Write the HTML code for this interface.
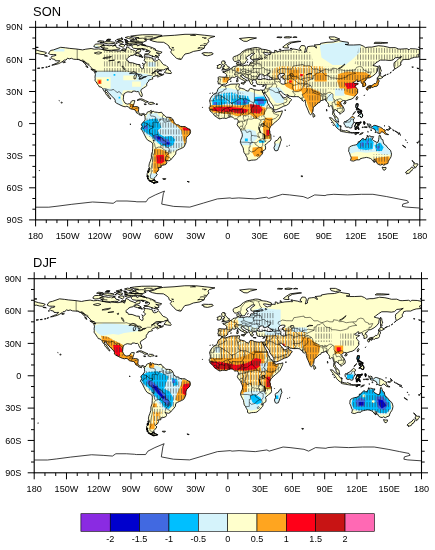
<!DOCTYPE html><html><head><meta charset="utf-8"><title>SON DJF</title>
<style>html,body{margin:0;padding:0;background:#fff}svg{display:block}text{font-family:"Liberation Sans", Arial, sans-serif;fill:#000}</style></head><body>
<svg width="435" height="550" viewBox="0 0 435 550">
<rect width="435" height="550" fill="#fff"/>
<defs>
<path id="land" d="M48.4 53.5L50.5 50.5L53.7 49.8L60.7 47.3L65.5 47.8L69.8 48.4L77.2 49.1L82.6 49.9L85.8 49.2L91.1 48.5L94.3 49.2L98.6 48.9L105 49.9L111.4 51.1L112.4 50.5L118.8 51.1L123.1 50.3L125.2 51.6L125.8 50L126.8 46.7L129.5 48.2L130.6 49.2L133.8 50.3L135.9 51.4L137 49.8L140.2 49L140.7 50.3L140.2 51.9L135.9 52.7L134.9 53.5L133.8 55.1L130.6 55.7L128.4 57.3L126.8 58.9L126.8 60.7L128.4 61L129 62.6L132.7 62.8L137 64.4L139.9 64.6L140 66.9L141.3 68L142.3 68.8L143.4 68.5L143.6 66.4L142.9 65.2L145 63.7L146.1 62.1L143.9 60.5L145 58.9L144.5 56.9L147.1 57L149.3 57.3L150.9 57.8L153 58.3L153.5 60.5L155.1 61.2L157.3 60.5L158.9 59.1L161 61.5L162.1 63.1L163.7 64.8L165.8 65.3L166.9 66.4L168.3 67.4L167.9 68.4L165.3 69L163.7 69.9L159.4 69.9L156.7 69.9L155.1 71L153 72.8L151.7 73.5L153.5 72.5L156.2 71.2L158.9 71.2L159.1 72L157.3 72.2L158.3 73.3L158.9 74.2L160.5 74.6L162.1 74.7L163.7 73.8L163.7 74.6L162.6 75.2L159.9 76L157.8 77.1L157 76.5L158.3 75.2L156.2 75.5L155.1 76.1L153 76.8L152.2 77.9L153 78.9L151.4 79.3L148.7 80.2L148.7 81.3L147.7 82.1L147.1 83.2L146.6 84L146.9 85.6L145.5 86.7L143.4 88.1L141.3 89.4L140.8 91L141.8 93.1L142.3 94.9L142 96.5L141 96.6L140.2 95.2L139.3 93.6L139.1 92.4L138.1 91.5L136.5 91.7L134.9 91.1L132.7 91.2L132.2 92.4L130.6 92.2L127.9 91.8L126.3 92.4L124.2 93.6L123.6 95.8L123.4 97.9L123.3 99.7L124 101.3L125 103.1L126.3 103.7L127.4 104.1L129.5 103.7L130.6 103.3L131.1 101.7L131.7 100.9L133.8 100.5L134.9 100.7L134.3 102.7L133.8 104L133.5 105.4L132.9 106.6L134.3 106.7L135.9 106.6L137.5 106.7L138.8 107.5L138.6 109.7L138.4 111.3L138.6 112.4L139.7 113.4L140.7 114.1L142.3 113.8L143.4 113.4L145 114.3L145.5 115L146.6 113.8L147.1 112.4L148.2 111.8L149.8 111.3L151.2 110.3L151.6 111.3L150.9 112.4L151.4 113.4L151.9 112L153 111L154.6 112L157.3 112.3L158.9 112.7L161.5 112.2L162.1 113.1L163.1 114.5L164.7 115.6L166.3 117.2L169 117.3L171.1 117.7L172.7 119L173.8 121.5L174.3 123.1L175.9 124.1L176.5 124.7L178.6 124.9L180.2 126.3L182.9 126.6L185 126.6L186.6 127.6L188.2 128.7L190 129.3L190.6 131.6L190.1 133.8L188.2 135.9L186.6 137.5L186.1 139.7L186.1 142.3L185.3 144.5L183.9 147.1L181.8 148.2L179.7 149.1L177.5 150.1L175.9 151.4L175.7 153.9L174.3 155.7L172.2 158.1L170.6 160L169 160.9L166.9 160.5L165.4 160L166.7 161.6L166.9 163L165.8 164.5L162.6 165.3L161.3 165.3L161.2 167.3L158.3 167.5L158.9 169.1L158 171.2L155.7 172.8L157.3 174.4L155.7 176.6L154.1 178.2L154.6 179.6L152.5 180L151.9 181.2L149.8 180.3L148.2 178.7L147.1 176L147.1 173.7L148.7 171.8L149.8 168.5L148.9 166.4L149.3 163.7L150.3 161.1L151.4 157.8L151.4 154.6L152.5 151.4L152.7 148.2L152.8 145L152.6 143.3L150.9 141.8L147.7 140.2L146.3 138.4L145 135.9L143.4 132.7L142.3 130.6L140.9 129L141.8 127.3L142.3 126.3L141.3 124.7L142.3 123.1L143.4 122L144.5 120.9L145.2 119.3L145 117.2L145 115.9L144.1 115L142.9 114.1L141.8 114.8L142 115.7L140.7 115.3L139.1 114.7L138.1 113.4L136.5 112.9L136.1 111.8L134.9 109.9L134.1 109.4L132.2 109.2L130 108.6L128.4 107L126.8 106.3L125.2 106.8L123.1 106.3L121 105.4L118.8 104.3L116.7 103.3L115.1 102L115.3 100.6L114.6 99L112.4 96.8L110.8 95.2L109.8 93.9L108.2 92.6L107.1 90.4L105.3 89.7L105.5 91.5L107.1 93.1L108.2 94.7L109.2 96.3L110.3 97.9L110.8 99L110.1 98.8L108.2 97.1L107.6 95.6L106 94.5L105.5 93.6L105.8 92.8L104.2 91.5L103.4 89.9L102.6 88.6L101.3 87.2L99.1 86.7L98.6 85.6L97.5 84.2L97 83.2L95.6 81.3L95 80.4L95.2 78.7L95 77.1L95.4 74.4L94.6 71.8L96.4 72.2L96.6 71.2L95.4 70.1L92.2 69L91.1 67.4L89 65.3L87.4 64.2L85.2 62.1L83.1 61L81 60.7L78.8 59.6L76.2 59.4L73.5 59.2L71.4 58.3L69.2 58.9L67.6 58.1L66 60.1L64.4 59.9L63.3 61L60.7 62.6L58.5 63.7L55.9 64.4L53.7 65L51.8 65.2L54.8 63.9L56.9 63.1L59.1 61.8L59.8 60.7L58 60.8L55.3 60.8L54.8 59.4L52.1 58.9L51.1 57.8L51.6 56.4L53.7 56L55.9 55.4L55.9 54.6L53.7 54.6L50.5 54.5ZM134.9 55.1L138.1 56L141.8 55.5L140.2 54.3L137.5 53.2L135.4 54ZM164.4 72.6L167.9 73.3L171.1 73.6L171.5 72.7L170.6 71.7L170.4 70.6L168.5 70.1L168.5 68.5L166.9 69L165.8 70.6ZM90.8 69.2L94.3 70.1L96 71.8L94.5 71.7ZM137 100.3L139.1 99L141.8 98.9L145.5 100.6L148.5 102L145 102.3L144.5 101.5L142.3 100.4L140.2 99.6L138.1 100.3ZM148.3 103.8L149.8 102.3L153 102.4L154.7 103.7L151.9 104.1L151.2 104.6ZM144.1 103.9L146.3 104.1L146.1 104.6L144.5 104.6ZM156 103.9L157.6 103.9L157.5 104.4L156 104.4ZM201.8 53.5L203.7 52.6L208.5 52.8L212.2 52.7L213.2 54L210.6 55.1L207.4 55.8L203.7 55.2L204.2 54.3ZM239.4 38.5L243.7 41.2L246.9 41.4L250.1 39.6L256.5 38L249 37.5ZM282.7 47.1L284.3 47.8L288.5 48L287.5 45.2L291.7 42.8L300.8 41.4L298.1 41.2L289.6 42.3L285.3 45ZM330.2 39.1L334.4 40.1L339.8 39.1L334.4 36.9L329.1 36.9ZM373.9 43.4L382.4 43.4L387.8 42.8L380.3 42.3L375 42.3ZM255.1 47.5L257.6 47.6L260.8 48.4L260.8 49.1L262.9 49.3L266.1 49.7L270.4 51.1L271.5 52.1L268.8 53L264 52.2L262.9 52.4L264.5 54L265.1 54.8L267.2 55.3L268.3 54.6L270.4 54.5L270.4 53.2L272.5 52.6L274.7 52.8L274.7 50.3L276.8 50.8L276.8 52.1L278.9 51.3L284.3 50.3L289.6 50L291.7 50.2L292.8 48.9L297.1 49.6L299.2 50.3L301.3 50.3L299.2 48.7L301.3 45.5L304.5 45.7L305.6 47.6L305.1 50.3L304.5 52.4L306.7 51.4L306.7 49.8L307.7 46.6L310.9 46.2L313.1 46L315.2 46.8L316.3 48.2L316.3 46.6L314.1 45L320.5 44.4L320.5 43.4L327 42.3L333.4 42L338.7 40.5L341.9 41.4L348.3 42.3L348.3 44.4L345.1 44.4L348.3 45L353.6 45L360 44.7L363.2 46L365.4 47.6L368.6 47.1L371.8 47.1L377.1 46L378.2 45.7L383.5 46.2L387.8 47.1L389.9 47.7L395.3 47.6L398.5 49L400.6 49.1L407 48.7L409.1 49.8L410.2 48.7L415.5 48.9L419.8 49.8L419.8 53.8L417.7 54.6L418.7 56.2L419.3 56.9L414.5 57.3L411.3 58.3L409.1 59.4L404.9 59.4L402.2 59.9L401.7 61.5L400.6 63.1L401.1 64.8L398.5 66.7L396.6 68L394.9 69L394.2 66.9L393.9 64.8L394.2 62.6L396.3 61L398.5 58.9L401.7 56.7L398.5 57.5L395.3 57.8L393.1 59.9L389.9 60.5L385.6 60.1L380.3 60.1L377.1 62.1L374.4 64.2L372.8 65.3L375 66L378.2 66.7L377.6 69L377.4 71.2L375.5 73.8L372.8 76L369.6 77.8L367.5 78.1L366.2 79.2L365.4 80.8L363.8 81.3L364.8 82.4L365.8 84L365.7 85.6L364.3 86.4L362.7 86.7L362.7 85.1L362.9 84L361.1 82.9L361.1 81.3L360.4 80.8L357.9 81.7L357.2 82L357.9 80.3L356.8 79.9L354.7 81.7L353.3 82.1L354.5 83.5L356.3 83.3L358.4 83.8L356.3 84.9L355 86.2L356.3 87.8L357.7 89.6L357.7 90.6L356.8 91.2L357.9 91.7L357.4 93.3L355.8 95.2L354.7 96.6L353.1 98.1L351 99.3L349 99.7L346.7 100.6L345.4 100.8L345.1 101.9L344.8 100.6L343.3 100.5L341.7 101.3L340.6 102.7L341.4 104.6L343 106.5L344.2 109.2L344 111.3L341.9 112.5L340.1 114.3L339.8 112.9L338.2 112.3L337.1 110.8L335.5 110L335 109.2L334.4 110.2L333.7 112.4L334.4 114L335 115.8L336 116.3L337.6 117.7L338.2 119.3L338.2 120.9L338.9 122.1L338.2 122.2L336 120.7L335 118.8L334.7 117.2L333.4 115.3L332.6 114.5L332.8 112.4L333 110.2L332.3 108.1L331.9 105.9L330.7 105.6L329.4 106.7L328.3 106.3L328.6 104.3L327.5 102.4L326.2 101.1L325.7 99.7L324.3 99.5L322.7 100.3L320.5 100.6L320 102.2L318.4 102.7L316.3 104.9L314.7 106.3L313.3 107L313.2 109.2L312.9 111.3L312.3 112.6L311.8 113.8L310.5 114.9L309.3 113.4L308.3 110.8L307.2 108.1L306.1 105.9L305.5 103.3L305.3 101.1L305.1 99.8L303.5 101.3L301.6 99.8L302.6 99.1L301.1 98.7L299.7 97.9L298.9 96.8L296.5 96.6L293.3 96.7L290.7 96.4L288.9 96.1L288 94.7L285.9 95.1L283.7 94.2L282.1 92.6L281.1 91.3L279.8 91.3L278.9 92L279.7 93.3L281.1 94.9L281.3 96.2L282.1 95.8L282.8 96.8L282.4 97.6L283.7 97.7L285.3 97.7L286.9 96.3L287.8 95.6L288 97.1L289.1 98.1L290.5 98.5L291.5 99.5L290.7 101.1L289.6 101.7L289.3 103.3L288 104.3L286.4 105.4L283.7 106.2L281.1 107.5L278.9 108.6L276.3 109.7L274.1 110L273.6 108.6L273.3 106.5L272 104.3L270.4 102.2L269.3 100.6L268.8 98.5L267.2 96.3L266.1 94.7L265.1 93.4L264.9 92L264.3 93.6L264.2 94L263.2 93.1L262.5 91.5L262.2 90.2L264 90.1L264.7 89.4L265.1 88.3L265.8 86.7L266.1 85.1L266.1 84.2L264.5 84.3L262.9 84.9L260.8 84.2L260.3 84.8L258.6 84.5L257 84.2L256.7 82.9L256 82.4L256.5 81.3L255.7 80.8L256 80.3L255.4 79.9L253.3 79.9L252.8 80.6L252 80.4L251.9 81.7L252.8 82.4L253.3 82.9L252.5 83.2L252.2 84.5L251.5 84.5L250.9 84.1L250.3 83.2L250.1 82.1L249 81.1L248.4 79.7L248.5 78.9L247.4 78.1L245.8 77.4L244.2 76.5L243.2 75.2L242.3 74.8L240.8 75.1L240.9 76.3L242.2 77.1L242.9 78.2L244.8 78.9L245.8 79.7L247.4 80.6L247.3 81L245.8 80.4L245.3 81.2L245.9 81.9L245.3 82.6L244.5 82.9L244.8 82.1L244.5 80.8L243.2 80.1L241.6 79.4L240.7 78.9L239.4 78.2L238.7 77.1L237.8 76.3L237 76.1L235.7 76.7L234.6 77.5L233 77.2L232 77.1L230.9 77.6L231.1 78.7L230 79.4L228.4 79.9L227.4 81.3L227.8 82.2L227 83.2L225.6 84.2L223 84.3L221.9 85L221 84.4L220.2 83.8L218.3 84L218.3 82.4L217.7 82.1L218.2 80.6L218.4 78.9L217.9 77.6L219.2 76.8L221.8 77.1L224 77.2L225.8 77.2L226.4 76L226.5 74.6L225.6 73.5L224.7 72.9L222.9 72.3L222.7 71.7L224.5 71.4L226 71.5L225.8 70.4L226.4 70.7L227.9 70.5L229.3 69.9L229.5 69.1L230.9 68.7L232 68L232.8 66.9L234.1 66.5L235.4 66.2L236.9 66.1L237.1 65.3L236.9 64.2L236.3 63.1L236.8 62.5L238.9 61.9L238.7 63.1L239.2 63.5L238.4 64.2L237.9 65L239.2 65.5L239.4 65.8L240.8 65.5L242.6 65.8L243 65.9L245.3 65.3L247.4 65L248.5 65.4L249 64.9L250.1 64.2L250.1 62.6L251.7 61.9L252.8 62.6L253.6 62.1L253.7 61.2L252.8 60.3L254.9 59.9L257.6 59.9L259.9 59.4L258.1 58.8L255.4 59L252.2 59.5L250.6 58.9L250.4 57.3L251.2 56L253.8 54.3L254.7 53.5L253.5 53.2L251.2 53.4L250.4 54.6L248 56L246.2 57.3L246.1 58.5L247.8 59.4L246.9 60.5L245.5 61.8L245.1 63L244.6 63.6L243 64.2L241.6 64.3L241.3 63.5L240.5 62.1L239.7 60.6L239 59.9L237.8 60.7L236.2 61.4L234.6 61.4L233.6 60.5L233 58.9L233 57.5L234.1 56.6L236.8 55.7L238.9 54.6L240.8 53.5L241.6 52.2L243.2 51.1L244.8 50.2L246.9 49.2L249.6 48.7L252.2 48.1ZM35.6 49.8L39.9 51.1L45.2 52.1L46.6 52.9L44.1 54.6L40.9 54.4L37.7 53.5L35.6 53.8ZM262.5 91.5L262.2 90.2L260.8 89.9L259.2 90.4L256.5 90.1L254.4 89.7L252.2 88.7L250.6 88.4L249 89.4L249 90.6L248 91.2L245.8 90.4L244.2 89.1L241.6 88.4L239.4 87.8L238.6 87.2L239.2 85.6L239.4 84L238.4 83.7L236.8 84.1L234.1 84.1L230.9 84.2L227.7 85.3L225.6 86L223.4 85.9L221.9 85.2L221.3 85.4L220.4 87.2L218.6 88L217.6 89.9L217.2 91.5L216.5 92.8L214.9 93.6L213.3 94.7L212.2 95.8L210.6 98.1L209.6 100.6L210.1 102.7L210.4 104.3L210.1 106.3L209 107.9L209.8 109.7L209.9 110.8L211.2 111.8L212.2 112.9L213.5 114L214.4 115.6L216 116.6L218.1 118.2L219.7 118.9L222.4 118.2L224.5 118.2L226.1 118.5L228.2 117.5L230.4 116.9L232.3 116.9L233.6 118.2L234.6 119L236.2 118.8L237.3 119.3L238.1 120.4L238.2 122L237.6 123.1L237.1 124.5L237.8 126L239.4 127.9L240.5 129.5L240.8 130.6L241.9 132.7L242.4 134.8L242.1 137L241 139.1L240.5 140.7L240.3 142.3L241 143.9L242.1 146.1L243.2 148L243.5 150.3L244 152.5L245.3 154.3L246.2 156.2L247.2 157.8L247.2 160L248.5 160.7L249 160.8L251.2 160.2L253.3 160.1L255.1 160L256.5 159.6L258.1 158.4L259.7 156.8L260.8 155.5L262.2 154.1L262.7 152.5L262.6 151.2L264 150.3L265.5 149.3L265.6 147.1L265.1 145.5L265.1 144.8L266.7 143.7L268.3 142.1L270.4 140.7L271.1 139.1L270.9 137L270.9 134.8L269.9 133.2L269.9 131.1L269.3 130L269.6 128.7L270.4 126.8L271.5 125.7L273.1 124.1L275.2 122.2L277.3 120.6L279.5 118.2L281.1 115L282.1 112.5L282.3 110.8L280 111.5L277.9 111.7L275.7 112.4L273.9 111.3L273.6 110.2L273.1 109.2L271.5 107.8L270.1 107.2L269.3 105.9L268.8 104.3L267.5 103.3L267.4 101.1L267 100.1L265.8 98.1L265.1 96.8L264 94.9L263.5 93.6ZM280.3 136.4L281.4 140.2L280.5 141.8L279.8 145L278.4 148.7L277.9 150.3L276 150.9L274.7 150.3L273.9 147.7L275.1 145L274.7 142.3L275.7 140.7L277.3 140.3L278.9 138ZM221.6 70L224 69.8L226.6 69.4L229.1 68.8L228.8 68.2L229.5 67.2L228 66.9L227.7 66.1L226.3 65L225.6 63.9L224.5 63.7L225.6 62.1L224 61.9L224.5 60.9L222.4 60.9L221.5 62.1L221.8 63.7L222.6 64.8L224.3 65L224.5 66.4L222.9 66.7L223.2 67.6L222.2 68.2L224.3 68.6L222.9 69ZM217 68.2L219.2 68.4L221 67.7L221.3 66.4L221.6 65.2L220.8 64.5L218.9 64.5L218.6 65.4L217 65.6L217.6 66.7ZM241 82.9L244.2 82.7L243.9 84.3L241 83.4ZM236.6 81.9L237.8 81.7L238.1 79.7L236.6 79.9ZM237 79.2L237.8 78.7L237.7 77.6L237 78.1ZM252.9 85.6L255.7 85.8L255.7 86.2L252.9 85.9ZM262.3 86.4L264 86.2L264.5 85.5L262.9 85.8ZM313 113.3L314.4 114.5L315 116.1L314.1 117L313.2 117.2L312.9 115ZM378.7 79.4L379.2 81.3L378.2 82.9L378.2 84.5L377.3 85.9L375.8 86.5L373.9 86.6L372.8 87.8L371.8 86.7L369.6 86.9L367.5 87.2L367.5 86.7L369.1 85.7L371.8 85.5L373.4 84.5L374.2 83.5L375.5 83.7L376.6 82.6L377.1 80.8L377.4 79.5ZM377.1 79.2L378.2 78.1L380.3 78.7L383 77.3L381.7 76.5L379.2 75L378.8 76.5L377.4 77.4ZM366.4 87.8L368.3 87.6L368 89.9L367 90.2L366.2 88.5ZM369.1 87.3L371.2 87L370.9 88L369.6 88.5ZM379.2 65.5L380.3 66.9L380.6 69L381.4 71.2L380.3 72.2L380.8 74.2L379.2 74.4L379.2 72.2L379.2 70.1L379 68ZM357.4 96.6L357.9 97.4L356.6 100.1L355.9 99L356.8 96.8ZM343.7 103.1L345.1 102.1L346.2 102.6L345.1 104L343.7 103.8ZM356.3 103.8L358.1 103.8L357.9 105.9L357.4 107.5L357.9 108.6L360 109.7L360 110.2L358.4 109.2L356.8 108.9L356.3 108.1L355.8 106.5ZM357.9 116.1L359.5 114.5L361.6 113.2L362.7 115L362.4 116.9L361.6 117.5L360 116.6L359 115.6ZM360.4 110.2L361.6 110.4L361.6 111.8L360.9 112.7L360.6 111.5ZM357.9 111L359.2 111.3L359.3 113.1L358.4 113.4L357.9 112.4ZM352.9 114.5L355.2 112.4L355.3 111.5L354.5 112.4L352.8 114ZM344 122L344.6 121.5L346.2 121.8L346.5 120.7L348.3 120.2L349.4 118.8L351 117.7L352.4 116.1L353.3 116.9L354.7 118L353.6 119L353.4 120.4L353.6 121.5L354.7 122.5L353.4 122.7L353.1 124.3L352 125.2L352 126.8L351.5 127.9L349.9 128L348.3 127L347 127.3L345.3 126.7L345.1 125.2L344 124.1ZM329.4 117.6L331.8 118L332.8 119.5L335 121.2L337.6 123.1L338.5 124.7L339.2 125.7L340.8 126.8L340.6 129.8L339.2 129.8L336.9 127.9L335.5 126.3L334.7 124.7L333.4 123.1L332.3 121.5L330.7 119.6ZM340 130.9L340.8 129.9L343.5 130.6L345.6 131L346.2 130.4L348 131.1L349.9 131.8L349.9 132.9L347.2 132.5L344 131.9L341.4 131.5ZM355.2 129.5L356.2 129.5L356.1 126.8L356.8 126.5L357.4 128.4L359 129.5L358.4 127.3L357.4 125.7L359.5 124.7L357.4 124.6L356 123.2L356.8 122.5L359 122.6L361.1 121.9L360.6 123.2L357.4 123.2L355.8 122.7L355.6 124.1L354.7 126.3L355.2 127.3ZM350.4 132.4L352.6 132.5L354.7 132.5L356.8 132.6L359 132.5L359 133L355.8 133.1L353.6 133.1L350.4 133ZM359.5 134.6L361.1 133.2L363.2 132.6L362.7 133.4L360.6 134.5ZM354.7 133.8L356.6 134.1L355.8 134.6L354.7 134.1ZM363.8 121.5L364.8 122L364.8 123.6L364.3 124.5L363.8 123.1ZM364.3 126.8L367.3 126.8L367 127.6L364.3 127.3ZM367.5 124.5L369.1 124L370.7 124.5L370.9 126.3L371.8 127.1L373.9 125.4L375 125.3L378.2 126.4L380.3 127.2L382.4 128.4L383.5 129.5L385.1 130L385.4 130.8L384.6 131.1L385.6 132.7L386.7 133.8L388.6 134.6L386.7 134.6L384.6 133.8L383.5 132.4L381.9 131.7L380.8 132.5L380.3 133.4L378.2 133.3L376.6 132.2L375 132.5L375.7 131.3L375 129.5L372.8 128.4L370.7 127.7L369.6 127.9L368.6 126.6L370.2 126.1L368.6 125.7L367.5 125.2ZM386.2 129.6L387.8 129.5L389.9 128.1L390.2 129L388.3 130.3ZM349 147.7L349.6 146.9L351.5 145.9L353.6 145.3L355.2 145L356.8 144.5L358.2 142.9L358.1 141.8L359.5 142.1L359.7 141L361.1 140.2L362.2 138.6L363.2 138.5L364.3 139.4L365.9 139.5L366.4 138L366.7 137.3L367.3 136.9L368.6 136.5L369.2 135.8L371.8 136.7L373.7 136.7L372.8 138L372.3 139.4L373.4 140.5L375 141.4L376.6 142.3L378 142.3L378.7 139.7L378.9 137.5L379.2 135.4L379.8 135L380.8 137L381.1 138.9L382.8 139.7L383.2 141.8L383.8 143.9L385.6 145L387.2 147.1L388.6 148.7L390.5 150.3L391.2 152.5L391.5 154.1L391 156.8L390.2 158.4L389.2 159.8L388.3 161.6L387.8 163.5L385.6 164.2L383.8 165.3L382.2 164.3L380.8 165.1L378.7 164.6L377.1 163.5L376.6 161.9L375.2 161.6L375.2 160.3L374.8 158.9L373.9 160L374.1 161.3L372.6 160.8L371.8 159.4L370.7 158.6L368.6 157.8L366.4 157.4L364.3 157.8L362.2 158.2L360 158.9L359.5 159.9L356.8 159.8L355.2 160.4L353.6 161.1L351.5 160.8L350.4 160.3L351 158.9L351.2 157.3L350.4 155.7L349.9 154.1L349.4 152.5L348.6 151.4L348.8 149.8ZM382.1 167.1L384 167.6L386 167.4L385.9 168.8L384.9 170.1L383.5 170.1L382.8 168.8ZM412 160.4L413.4 161.6L414.3 163L415.5 163.8L417.7 163.8L418 164.8L416.6 165.9L415.9 167.5L414.7 168.1L414.3 167.8L414.5 166.4L413.2 165.7L414.1 164.3L413.9 162.7L412.3 161.1ZM412 166.9L413.6 168.2L412.3 169.6L412.1 170.5L410.4 171.2L409.9 172.7L408.1 173.5L406.5 173L405.4 172.6L407 170.9L409.1 169.6L410.4 168.8L411.3 167.3ZM149.8 39.9L155.1 38.5L158.3 36.9L163.7 35.9L174.3 35.3L185 34.3L195.7 34.3L204.2 35.2L214.9 36.4L209.6 38L208 39.6L209 41.7L206.9 43.4L206.9 44.4L204.8 46L204.2 48.2L200 50.3L193.5 51.4L189.3 53.2L185 54L182.9 56.7L181.3 59.4L179.7 59.4L176.5 58.3L174.3 56.2L172.2 54L170.6 51.9L172.2 49.8L169.5 48.2L169 46L166.3 43.9L163.7 42.3L157.3 42.1L153 41.2ZM93.8 46.6L95.9 47.5L99.6 47.1L102.3 45.5L104.4 45L102.8 44.1L99.6 43.9L95.4 44.1L94.3 45.5ZM100.7 47L103.9 48.7L102.8 49.8L107.1 50.3L111.4 50.2L115.1 49.8L118.8 49.8L120.1 48.4L116.7 47.6L115.6 45.7L112.4 45.3L109.2 45.8L106 45.2L101.8 45.8ZM118.8 45.5L123.1 47.3L124.7 46L124.2 44.6L121 44.4ZM125.2 44.4L128.4 45.8L131.1 45.5L131.7 44.4L128.4 44.2ZM121.5 49.8L125.2 50.3L125.8 49.2L123.1 48.7ZM102.8 42.8L108.2 43.9L114.6 43.4L114.6 42.3L110.3 41.7L105 41.7ZM116.7 41.7L121 43.4L123.1 42.8L123.1 41.7L119.9 41.2ZM97.5 41.7L102.8 42.3L103.9 41.2L99.6 40.7ZM125.2 42.8L127.9 43.4L127.9 42.7ZM129.5 43.7L133.8 43.9L142.3 43.8L142.9 42.8L140.2 42.3L132.7 42L129.5 41.7L125.2 41.3L126.3 42.7ZM131.7 41.7L137 42L143.4 42L146.6 40.7L144.5 39.6L149.8 39.1L155.1 37.5L159.4 36.4L162.1 35.4L157.3 34.8L150.9 34.7L142.3 34.8L134.9 35.5L130.6 36.2L134.9 37.1L139.1 37.8L134.9 38.5L137 39.6L132.7 40.4ZM125.2 37.5L128.4 38.5L134.3 39.9L133.8 38.5L131.1 37.5L128.4 36.6ZM116.7 39.6L121 40.4L123.1 39.1L119.9 38.7ZM124.2 39.6L125.8 40.4L126.3 39.5ZM141.3 44.8L146.1 45.7L144.5 44.6ZM157.3 57.4L154.1 56.7L151.4 55.7L148.7 54.8L145 54.8L144.5 54L147.7 53.7L149.3 53L150.3 51.4L148.2 50.3L145.5 49.2L143.4 48.7L140.2 48.7L137 48.7L133.3 48.2L132.2 47.1L131.7 45.5L133.8 44.6L137 44.6L137.5 46L140.2 44.7L141.8 44.8L144.5 45.7L147.7 46.2L150.9 47.1L153.5 48.2L155.7 49.2L155.1 50.3L159.4 51.4L162.1 52.2L160.5 53.5L157.8 53L156.2 52.7L158.9 54L159.4 55.7L157.3 56.2L155.1 55.3L157.8 56.7ZM145.5 51.4L147.1 51.6L146.6 50.6ZM139.1 56.6L142.3 56.8L141.3 56.2ZM141.8 57.5L143.1 57.3L142.5 56.8ZM158.9 70.3L161.5 70.8L161.7 71.1L159.9 70.8ZM159 73.7L161.5 74L161 74.4ZM62.8 62.1L64.9 61.5L65.5 62.3L63.3 62.8ZM44.7 55.5L47.3 55.9L47.6 56.2L44.4 55.9ZM49.5 59.2L50.9 59.1L50.5 59.6ZM48.2 66.6L50 65.9L49.7 66.4ZM41.5 67.9L43.6 67.5L43.6 67.9ZM37.4 68.3L39.9 68L39.7 68.3ZM45.7 67.2L47.3 66.9L47.3 67.2ZM411.8 67L413.4 67.1L412.9 67.3ZM416.9 68.1L419.1 68.5L418.2 68.7ZM85.8 65.8L87.1 65.8L87.9 67.7L86.3 66.9ZM82.6 61.5L84.2 61.5L85.8 63.7L85.8 64.8L84.7 63.7ZM61.2 102L62.3 102.5L61.6 103.3L61.2 102.7ZM58.9 100.5L59.4 100.8L59 100.8ZM130 123.9L130.7 124L130.4 124.7ZM162.6 178.7L165.8 178.6L165.3 179.5L163.1 179.3ZM187.1 181.4L189.3 181.8L189.1 182.2ZM154.5 179.9L154.9 180.8L158.1 182.1L156.7 182.6L154.1 182.8L151.4 181.9L148.7 180.3L150.9 181.3L152.5 180.8ZM301.1 175.8L302.9 176.1L302.2 176.8L301.2 176.5ZM276.8 37.4L281.1 37.8L282.1 37.1L277.9 36.9ZM284.3 37.8L289.6 37.9L291.7 37.1L287.5 36.6L284.3 37.1ZM292.8 37.4L297.1 37.3L294.9 36.7ZM279.2 49.4L280.5 49.2L281.1 49.9L279.8 50ZM290.1 48.5L292.1 48.4L291.7 49ZM418.5 47.3L419.8 47.7L419.8 47.1ZM35.6 47.7L38.3 47.4L35.6 47.1ZM383 76.5L384.6 75.7L386.2 74.8L385.1 75.1L383.5 76ZM387.2 74.6L388.3 74.1L387.8 74.1ZM389.9 73.3L391.3 72.2L390.8 72.2ZM392.8 70.8L394.4 69.5L393.7 69.7ZM247.1 62.6L248 61.8L247.8 62.3ZM239.4 64.4L241 63.7L241 64.4L240.3 64.8ZM230.3 81.3L231.3 81L231 81.5ZM284.6 110.1L285.9 110.1L285.3 110.4ZM326.5 109.2L327 110.2L326.7 111.2L326.4 110.2ZM364 95.6L364.6 94.9L364.3 95.5ZM402.7 145.2L405.9 147.5L405.4 147.6L402.5 145.5ZM416.9 142.3L418.3 142.4L418 143.1L417 143ZM418.5 141.3L419.8 140.9L419.3 141.6ZM405.5 139.7L406.2 140.2L405.9 140.5ZM407.2 142.3L407.6 142.6L407.2 142.8ZM394.7 130.8L396.3 131.7L398.2 132.7L397.4 132.5L395.8 131.6ZM397.9 133.6L399.3 134.1L399 134.2L398.1 134ZM399.2 132.5L399.9 133.8L399.5 133.6ZM399.8 134.5L400.9 135.2L400.4 135ZM392.7 129.5L394.1 130.7L393.5 130.9L392.8 130ZM388.6 126.4L390.1 127.3L391 128.6L390.6 128.2L389.4 127ZM384.2 125.7L385 125.7L384.6 126ZM286.7 146L287.3 146.1L287 146.4ZM289 145.1L289.4 145.3L289.1 145.5ZM273.9 135.9L274.1 136.3L273.8 136.3ZM209.8 93.3L210.4 93.1L210.1 93.6ZM212.4 93L213 92.8L212.8 93.4ZM202.3 107.3L202.7 107.3L202.5 107.7ZM362.2 127L363.5 127.1L363 127.7L362.2 127.5ZM340.1 125.5L341.4 126.3L340.8 126.8L340.3 126.1ZM355.6 132.7L359 132.5L358.8 133L355.8 133.1ZM331.4 122.1L332.2 122.9L331.8 122.7ZM333 124.7L333.7 125.5L333.2 125.4ZM356.2 109.3L357.3 109.4L357.2 110.4L356.6 110.1ZM360.5 111.5L361.1 111.5L361.3 112.7L360.9 112.9ZM367.7 123.8L367 123.7L367.3 124ZM370.9 129.5L371.6 130L371.2 130.9L370.8 130.2ZM367.7 131.4L368.4 131.9L367.8 132.2ZM366.8 135.8L368 135.7L367.8 136.2L366.9 136.2ZM373.5 161.8L375 161.9L374.4 162.2ZM406.5 173.8L407.2 173.7L407 174.1ZM39 170.5L39.7 170.5L39.3 170.8ZM106 40.4L109.2 40.8L110.3 40.1L107.6 39.8ZM107.1 39.6L110.3 39.8L110.8 39.3L108.2 39.1ZM100.2 42.7L102.3 42.8L101.8 42.2ZM115.6 43.2L117.2 43.4L116.7 42.8ZM114 45.2L115.9 45.5L115.6 44.6ZM125.2 40.7L127.9 40.8L126.8 40.2ZM130 40.9L132.2 41L131.3 40.5ZM121 38.2L122.6 38.3L122 37.7ZM115.1 41L116.2 41.1L115.6 40.5ZM118.3 40.6L120.4 40.6L119.4 40.1ZM147.1 51.2L148.7 51.3L148.2 50.7ZM142.9 49.8L144.5 50L143.9 49.2ZM154.6 59.1L155.7 59.1L155.1 58.7ZM157.8 57.9L158.9 58L158.3 57.5ZM143.9 56.1L145 56.1L144.7 55.7ZM142.3 63.1L143.4 63.9L142.9 63.9ZM151.9 56.5L153 56.6L152.5 56.3ZM141.8 49L143.1 49.1L142.5 48.7ZM148.5 168.3L149.4 168.5L149.2 170L148.3 169.6ZM147.9 170.7L148.9 170.9L148.5 172.6L147.7 172.3ZM147.3 175.7L148.2 175.8L147.9 177.3L147.2 177.1ZM147.7 178L148.5 178.2L148.2 179.2L147.7 179ZM153 182.5L155.1 182.7L154.6 183.2L153 183Z"/>
<path id="lakes" d="M257 78.1L258.1 77.1L258.4 75.7L259.7 74.9L260.3 74.1L261.9 74.1L263.5 74.5L262.9 75.5L263.5 76L265.6 75.5L266.7 75.1L267.7 73.6L269.3 73.1L268.3 74.4L267.2 75.1L268.8 76.2L270.4 77.3L272 78.1L272 79.2L270.4 79.7L268.3 79.7L266.7 79.4L265.1 78.7L262.9 78.7L261.3 79.5L259.2 79.5L257.6 79.2ZM277.9 75.5L280 73.8L282.1 73.3L284.3 73.5L284.3 75.1L282.1 76L281.4 77.6L283.2 78.1L284.3 79.7L285.3 80.3L284.8 81.9L285.3 83.7L283.2 84.3L281.1 83.7L280 82.4L280.3 80.5L278.9 78.9L278.1 77.1Z"/>
<path id="thick" d="M356.3 103.8L358.1 103.8L357.9 105.9L357.4 107.5L357.9 108.6L360 109.7L360 110.2L358.4 109.2L356.8 108.9L356.3 108.1L355.8 106.5ZM357.9 116.1L359.5 114.5L361.6 113.2L362.7 115L362.4 116.9L361.6 117.5L360 116.6L359 115.6ZM360.4 110.2L361.6 110.4L361.6 111.8L360.9 112.7L360.6 111.5ZM357.9 111L359.2 111.3L359.3 113.1L358.4 113.4L357.9 112.4ZM355.2 129.5L356.2 129.5L356.1 126.8L356.8 126.5L357.4 128.4L359 129.5L358.4 127.3L357.4 125.7L359.5 124.7L357.4 124.6L356 123.2L356.8 122.5L359 122.6L361.1 121.9L360.6 123.2L357.4 123.2L355.8 122.7L355.6 124.1L354.7 126.3L355.2 127.3ZM363.8 121.5L364.8 122L364.8 123.6L364.3 124.5L363.8 123.1ZM154.5 179.9L154.9 180.8L158.1 182.1L156.7 182.6L154.1 182.8L151.4 181.9L148.7 180.3L150.9 181.3L152.5 180.8ZM147.3 175.7L148.2 175.8L147.9 177.3L147.2 177.1ZM147.7 178L148.5 178.2L148.2 179.2L147.7 179ZM153 182.5L155.1 182.7L154.6 183.2L153 183ZM147.9 170.7L148.9 170.9L148.5 172.6L147.7 172.3Z"/>
<path id="coastx" d="M129.5 73.6L131.7 72.5L133.3 71.6L135.9 72.3L137.2 73.5L134.9 73.8L132.2 73.5L129.5 73.6M134 78.9L135.6 78.7L136.8 74.6L135.1 74.8L134 76.5L134 78.9M137.5 74.4L140.7 74.4L142.3 75.7L140.7 76L139.8 77.6L138.6 76.5L138.6 75.1L137.5 74.4M138.8 78.9L141.3 79L143.4 77.9L141.8 78L139.7 78.7L138.8 78.9M142.6 77.3L145.5 77.3L146.3 76.5L144.5 76.6L142.6 77.3M122 66L123.3 66.4L124.8 69.6L124.2 69.7L122.6 67.4L122 66M94.3 53L98.6 51.9L101.8 52.7L99.1 54L96.4 53.8L94.3 53M102.8 58.3L106 57.3L111.4 56.5L109.2 57.8L105.5 58.3L102.8 58.3M108.7 60.8L114.6 60.1L111.4 60.5L108.7 60.8M117.8 62.1L119.4 61.5L118.8 63.1L117.8 62.1M261.6 123.9L261.9 123.3L264 123.4L264 125.2L263.5 126.5L261.9 126.3L261.6 123.9M258.9 127.3L259.5 129L260.6 132.8L260.1 132.4L259.1 129.5L258.9 127.3M264 134L264.6 135.9L265.1 138.9L264.6 138.6L264.2 135.9L264 134M338.4 68.5L340.8 67.2L344.6 64.2L345 64L343.5 66L340.3 68.3L338.4 68.5M306.1 74.9L308.8 73.5L312 73.8L308.8 74.1L306.1 74.9M290.1 73.8L292.8 73.8L293.3 75.5L291.7 77.1L290.1 76L290.1 73.8M260.6 59.4L262.7 58.9L262.4 58L260.3 58.1L260.6 59.4M265.1 58.3L266.4 57.8L265.6 56.7L264.5 57.3L265.1 58.3M102.3 48.1L106 48.2L108.2 48.4M102.3 47.2L105 47.1M112.4 46.6L114 45.7M151.9 48.5L150.3 48.1M154.6 49.4L153 48.9M147.7 47.1L146.6 46.3M146.6 38.5L142.3 38.2L138.1 38.5M153 36.9L147.7 36.7L144.5 37.1M139.1 41.2L135.9 40.7M137 42.8L134.9 42.5M204.2 48.3L201 47.8L197.8 48.3L200 47.4M205.3 45.5L202.1 45.2L200 45.7M206.4 43.9L203.7 43.6M174.3 49.6L173.3 50L173.8 50.5M172.2 48.2L173.8 47.8L171.7 47.3M202.1 37.5L206.4 38L204.2 38.5M192.5 34.8L195.7 35.3L190.3 35.5M180.7 58.9L179.7 58.3L178.6 58.7M153 140.2L154.1 140.7L153.8 141.1L153 140.2M35 207.2L48.8 207.2L58 206.1L71.8 204.3L92.5 202L104 202.6L113.2 203.3L116.6 201L127 201L135 201.5L136.9 201.8L146.1 201.8L148.4 198.4L155.3 194.9L164.5 191L163.3 193.8L161.7 204.1L173.7 206.4L189.8 207.1L203.6 203L217.4 198.9L230 197.9L231.9 198.4L238.8 197.9L254.9 198.9L266.4 197.2L268.7 198.4L282.5 194.3L289.4 194.9L303.2 196.6L307.8 198.4L314.7 194.9L325 195.6L326.9 194.9L333.8 194.3L347.6 194.9L361.4 194.3L372.9 194.3L386.7 196.6L398.2 198.9L407.4 200.7L408.5 202.5L402.8 204.1L402.3 206.4L406.2 207.1L419.3 208"/>
<path id="borders" d="M77.2 49.1L77.2 59.1L79.4 59.4L81 60.6L83.1 59.7L85.8 62.6L89 63.9L89 65.1M96.6 71.2L126.3 71.2L126.5 70.8L129.5 71.8L132.7 72.2L133.8 72L137.2 73.5L137.5 73.8L138.6 74.4L139.7 75.1L139.8 77.6L139.1 78.7L139.7 79L143.4 77.8L143.4 77.3L146.1 76.5L148 75.5L151.4 75.5L152.7 74.4L153.8 72.9L155.3 73.3L155.3 74.7L156.2 75.5M102.7 88.8L105.3 88.6L109.2 90.1L112.2 90.1L112.2 89.6L114 89.6L116.2 91.9L117.8 92.6L118.3 91.7L119.9 91.9L121.5 94.2L124 95.9M129.3 108.1L129.5 107.3L130 106.5L131.1 106.4L130.6 105.2L130.6 104.6L132.5 104.6L132.5 106.6M132.5 106.6L132.4 108.2L131.5 108.8M134.3 109.7L135.2 108.8L137 108.1L138.9 107.5M136.2 111.7L137.5 111.8L138.4 111.9M139.2 114.9L139.5 113.4M145.1 114.3L144.6 115.8M172.6 119.1L171.7 120.9L170.1 121.2L167.4 121.5L165.8 122L163.9 122.2L163.9 118.8L163.7 118L162.9 118.8L161 119.3L159.4 119.3L159.4 121.5L157.8 122.7L156.2 122.3L153 122L153.5 124.7L153 128.1L149.8 129L149.3 131.6L150.3 133.8L152.5 133.8L152.5 135.4L153.5 135.4L158 134.3L158.3 136.4L162.1 138L163.7 140.7L165.5 141L166.1 142.9L165.8 145L166 147.1L168.5 147.7L169.5 149.3L169.5 151L170.3 152.5L168.1 153.9L166.2 155.9L167.9 156.8L170.6 158.4L170.7 159.7M156.2 148L154.6 149.8L154.6 152.5L153 155.7L153 158.9L152.5 162.1L151.7 165.3L151.1 169.6L151.4 172.8L150.3 176L150.5 178.2L154.1 179.5L154.7 179.7M154.5 180L154.5 182.3M153.5 135.4L154.1 140.2L153.5 142.3L154.6 143.9L155.1 147.1L156.2 148L158.3 147.1L160.7 147.1L161.2 145.5L164.7 144.3L165.8 145M160.7 147.1L163.7 149.3L165.3 150.6L166.2 150.7L165.2 152.7L167.9 152.8L169.4 151M166.2 155.9L165.6 158.9L165.4 160M142 127.2L143.4 129L143.9 127.3L147.1 125.2L147.4 123.7L145 122.9L143.4 122M147.4 123.7L149.8 126.1L153 126.3L153 128.1M151.6 111L150.3 112.4L150.3 114.5L150.9 116.1L153 116.1L155.7 117L155.7 119.9L156.2 122.3M163.7 114.5L162.6 116.1L162.3 117.2L162.9 118M166.7 117.3L166.5 119.9L167.4 121.5M170.1 117.4L169.7 121.1M152.6 143.2L153.5 142.3M218.3 78.8L220.8 78.9L220.3 80.8L219.9 82.4L219.8 83.8M225.8 77.2L228.4 77.9L231.1 78.2M230.4 68.9L232.2 70.1L233.9 70.6L236.5 71.2L235.8 72.7L234.1 74.2L235.2 74.5L235.2 76.3L235.7 76.7M235.4 66.6L235.2 67.7L234.1 69L234.2 70L233.9 70.6M236.9 64.9L238.3 65M242.9 65.9L243.3 67.4L243.7 69L240.7 69.8L242.4 71.5L241.6 72.8L238.9 72.8L237.8 72.8L235.8 72.7M234.1 74.2L236.8 74.4L238.8 73.7L237.8 72.8M238.8 73.7L240.7 73.3L242.3 73.8L242.2 74.6M242.3 73.8L245 73.5L245.8 72.2L245.7 71.5L243.7 71.2L242.4 71.5M243.7 69L245.8 69.8L248 70.6L251.7 71.1L253.3 69.2L252.9 67.4L253.1 65.8L252 65.4L248.8 65.4M245.8 72.2L247.8 72.5L249.6 71.7L251.4 71.9L252.1 72.2L250.3 74.2L249.4 74.3L247.8 74.5L245.3 73.8L245 73.5M242.3 74.9L244.2 74.9L245.1 74L247.8 74.5L248 75.6L248.4 76.3L248.2 77.1L247.4 78M248 75.6L249.4 74.3L250.3 74.2L251.9 76L251.6 77.6L252.1 78.7L252.1 79.4L249.9 79.8L249 81.1M248.4 78.8L249.6 78.4L249.9 79.8M251.9 76.3L254.9 76.8L256.5 76.4L258.2 76.8M252.1 79.4L254.4 79.4L255.8 79L255.8 79.8M255.8 79L257.6 78.7M252.1 72.2L254.4 72.5L256.1 71.9L257.8 73.8L257.8 74.9L259.4 75.2M256.1 71.9L258.6 72.2L259.7 73.8L259.4 75.2M252.9 68.5L256.5 68.4L260.3 68.7L261.9 67.9L264 67.6L265.6 69.7L268.3 70.2L270.4 70.5L270.2 72.5L268.5 73.2M252.9 67.4L253.1 65.8L256 64L257.8 63.6L260.6 64.1L261.3 66.7L261.9 67.9M250.1 63.6L253.3 63.4L256 64M253.6 61.6L256.8 62.1L257.8 63.6M256.8 62.1L256.9 60.7L257.6 59.9M257.4 58.9L259.7 57.3L261.3 56.3L259.5 54.3L258.9 51.9L258.1 50.6L258.5 49.8L260.6 48.9M239.7 60.5L240.8 58.3L240.7 56.2L243.2 53L245.3 50.8L249 49.8L249.6 49.7L253 50.8L253.3 53L253.5 53.2M249.6 49.7L255.2 49L258.5 49.8M270.4 77.2L273.6 78L277.3 78.9L279.5 78.9M272 79.2L274.1 79.6L275.7 79.5L277.3 78.9M274.1 79.6L274.7 81.3L275.5 81.1L277.3 82L278.9 81.3L279.9 82.5M274.7 81.3L275 83L275.5 83.8L273 83.9L269.3 84.3L266.9 84.2L266.3 85.3M275.5 83.8L276.8 85.6L276.3 87.2L278.6 89.4L278.6 90.4L279.5 91.5M273 83.9L271.5 86.8L269.1 87.9L267 89L265.7 88.6L265.8 88L266.1 86.6M269.1 87.9L269.5 89.3L267.2 89.9L268.3 91L266.1 92.4L265.1 92.1M269.5 89.3L272.5 90.4L275.4 92.4L277.3 92.5L278.6 91.5L278.9 91.6M277.3 92.5L278.4 93L279.4 93.1M264.3 90.2L264.9 92M254.4 89.8L254.4 100.1L267.1 100.1M273.4 106.1L274.7 105L277.9 105.4L283.2 103.3L284.3 105.7M283.2 103.3L286.4 102.2L287.1 100.1L286.6 99.3L287.5 97M282.8 97.7L283.8 99.1L286.6 99.3M285.2 83.7L288.5 82.7L293 84.4L292.3 87.8L293.7 90L292.7 91.7L293.4 92.6L295.3 94.9L293.4 96.6M292.7 91.7L298.5 91.6L301.7 89.5L302.4 87.2L304 84.9L307.2 84L307.6 83.8M293 85.5L296.5 84.7L298.7 83.6L300.3 84L301.9 83.4L304 84.2L304.1 82.7L306.1 83.6L307.6 83.8M284.3 78.7L285.9 78.7L287.5 79.4L288.5 79.4L290.1 77.9L291.7 78.4L293.8 79.5L298.7 83.6M287.5 79.4L287.5 75.5L290.2 74.8L292.8 76.2L297 76.8L298.2 77.6L300.3 79.7L302.9 78.6L303.5 78.3L306.1 78.1L307.4 77.4L313.3 78.4M302.9 78.6L301.7 79.9L302.9 80.6L306.2 81.3L306.5 82.3M280 74.2L277.6 71.8L277.9 70.1L279.7 69.5L281.9 68.3L285.9 69L289.1 69L291.6 69.2L293.2 66L296 65.6L300.5 64.8L303.3 64.4L303.7 65.7L306.1 65.9L309.3 65.6L310.8 66.6L313.1 69.2L316.8 69L318.7 70.1L320.9 71M320.9 71L319.2 72.8L316.3 73.1L315.5 74.9L313.3 75.5L313.3 78.4L306.5 81.3M307.6 83.8L310.7 85.6L311.7 86.9L312 88.8L311.7 89.9L314.1 91.3L314.7 91.1L319.5 93.6L321.7 93.7M313.2 92.8L314.1 91.3M313.2 92.8L317.3 94.3L321.7 95.4L321.7 93.7M300.5 98.2L303.5 97.5L302 94.5L304.5 93.6L306.7 91L307.3 89.4L306.7 88.3L306.7 86.5L310.7 85.6M321.7 93.7L322.7 94.5L325.9 94.8L326 93.9L325.5 93.9L323.8 93.3L322.6 94.4M326 93.9L328.6 92.4L330.4 92.2L331.5 93.4M322.7 100.3L322.5 97.6L321.8 96L323.5 95.8L325.9 96.6L326.3 98.5L325 98.2L326.2 101.1M326.4 100.6L327.3 97.9L328.8 96.3L331.5 93.4L333 94.1L333 97.9L333.9 99.1L335.7 100.9M333.9 99.1L334.5 101.8L332.3 102.5L332.1 103.8L332.9 106.5L333.6 110.2L332.9 112.9M334.5 101.8L335.7 100.9L336.7 99.6L337.6 99.5M336.7 99.6L339.5 102.4L340 104L342.4 106.5L342.4 108.1L342.4 110.4L340.8 111.8L339.2 112.5M334.5 101.8L335.5 104.9L337.4 104.3L339.4 104.9L340.4 106.9L340.1 108.3L337.1 108.4L337.5 111.1M340.1 108.3L342.4 108.1M337.6 99.5L340.1 98.7L341.6 99.2L343 100.6M334.5 116.8L335.6 117.5L336.7 117M321.4 71L324.8 75.2L329.5 76.2L330.5 77.9L334.4 78L339.2 78.9L342.4 78.2L347.1 76.8L347 75.5L351.5 74.1L355.6 73.6L353.4 72.2L351.5 70.2M320.9 71L323.3 70.2L326.2 69.2L328.9 70.1L332.1 70.1L332.6 68L336.8 68.7L338.2 69.9L341.9 69.8L345.1 71L348.3 70.5L351.5 70.2L355 70L356.5 67.4L359.6 66.4L362.2 67.1L363.8 70.1L367.2 71.3L367.5 72.6L371.5 71.8L370.7 73.3L369.7 75.5L367.8 75.5L367.6 77.6L367.1 78.2M367.1 78.2L366.2 77.6L364.3 78.7L363.1 78.9L360.5 80.7M362.9 83L364.7 82.3M344.7 121.5L345.6 122.6L347.4 122L349 122.2L350.3 121.6L350.6 120.4L351.1 119.1L353.2 119.1M378.2 126.4L378.2 133.3M361.1 132.9L361.2 133.7M225.4 86L225.9 88L226.3 89.1L223.9 89.7L223.8 90.5L222.4 91.5L218.4 92.9L218.4 94L213.6 94M218.4 94.4L218.4 95.8L214.9 95.8L214.9 98.6L213.8 99L213.8 100.8L209.6 100.8M218.4 94.4L222.6 96.8L220.8 96.8L221.8 105.9L222 107L217.8 107L215.4 106.9L214.7 107.8L212.2 105.8L210.1 106.4M222.6 96.8L229 101L231.1 103.2L232.2 103.2L232.2 105.9L231.4 107.1L228.8 107.5L227.9 107.7L225.6 108.4L223.2 109.5L221.8 111.3L221.8 112.5L219.2 112.7L218.8 111.8L216.7 110.5L215.5 110.3L214.7 107.8M231.1 103.2L234.1 102.4L240.5 98.5L243.7 99L244.8 98.5L253.3 102.7L253.3 102.2L254.4 102.2L254.4 100.1M240.5 98.5L238.4 97.4L237.8 95.2L238.3 93.3L237.8 91.3L236.6 88.8L235.7 87.3L236.8 84.1M237.8 91.3L238.7 89.7L240 88.8L240.1 88.1M243.7 99L244.3 102.2L244.2 105.6L242.1 108.2L242.2 108.9L241 109.6L237.8 109.9L235.2 109.7L232.1 109.2L231.5 111.1L230.7 110.4L230 110.1L228.8 109.4L227.9 107.7M253.3 102.7L253.3 106.8L252.1 106.9L251.2 109.7L251.7 111.8L253 114L253.8 114.3L256.9 118.1L260.6 119.9M242.2 108.9L243.2 109.9L242.9 112.9L244.2 112.9L242.4 114.5L243.9 115.7L243.2 117.2L243.4 118.7L245 121.2L241.9 121.2L239.8 121.2L238.2 121.1M243.9 115.7L247.6 115L250.6 112.4L251.7 111.8M230.6 116.8L230.6 114L231.5 111.1M242.9 110.2L242.4 111.8L240.8 114.5L240.3 116.1L238.9 116.1L237 118.7M229.4 117L229.4 114L228.6 112.5L228.8 111.8L230 110.1M229 117.1L228.2 114.5L227.7 111.7L224.7 111.8L224.7 113.4L224.3 118.1M224.7 113.4L221.8 112.5M219.7 118.9L218.6 116.6L218.8 115.5L219.2 112.7M215.4 116.2L216.7 114.5L217.7 115.7L218.8 115.5M213.5 114L215.4 112.9L216.7 114.5M211.7 111.8L213.1 110L215.5 110.3M209.9 110.3L211.2 110L213.1 110M209.8 109L212.8 109L212.8 109.5L209.8 109.6M254.4 100.1L267.1 100.1M268.9 104.3L267.2 105.4L266.7 108.3L266.2 110L264.1 112.9L264.3 114.5L262.9 115.3L265.1 117.7L266 118.7L264 119.1L260.6 119.9M266.7 108.3L268.3 107.9L270.4 108.1L273 110.2L273.7 110M273 110.2L272.3 111.8L273.6 111.3M273.6 111.3L273.6 113.4L275.7 114.3L277.9 115L278.9 115L275.7 118.2L273.6 119L272.4 119.4L271.5 120.6L271.5 124.6L272 125.4M272.4 119.4L269.9 120L268.3 119.7L266.1 118.9L266 118.7M264 119.1L265.1 121.8L264 123.4L263.9 124.7L267.9 126.9L269.5 128.6M260.6 119.9L261.1 121.2L259.3 123.6L259.3 125.1L260.3 124.8L263.9 124.7M259.3 125.1L258.6 126.5L259 128.3L260.6 127.1L260.3 126.2L260.3 124.8M259 128.3L259.2 130L260.6 132.5L262.8 133.7L263.2 133.8L264 133.8L264.9 135.9L268 135.9L270.8 134.7M260.6 132.5L258.5 132.7L258 133.6L258.2 136.3L259.5 136.7L259.5 137.9L258.1 137L256.7 136L253.7 135.8L253.3 135.4L251.5 135.6L251.2 137.5L251.2 140.9L252.7 142.4L254.7 142.6M240.7 129.8L241.8 129.9L245.4 129.9L246.5 132.3L248.4 132.2L249 131.1L251 131.4L251.5 135.6M240.7 129L241.6 128.5L241 129.8M239.5 127.8L240.5 126.2L242.5 126.2L243.2 128.8L244.8 128.7L245 126L246.6 124.1L246.9 121L247.6 119.9L245.4 119.9L245 121.2M239.8 121.2L239.8 122.5L238.2 122.5L238.2 122.5M241.9 121.2L243.2 124.2L242.5 126.2M247.6 119.9L247.6 118.9L251.6 119.2L254.4 118.2L256.9 118.1M240.3 142.1L242.6 142.2L247.3 142.2L250.5 142.9L252.7 142.4M245.3 154.2L249 154L249 150.1L249 147.1L250.1 147.1L250.1 143.2L252.7 142.4M249 150.1L251.2 152L254.9 151L256.5 148.9L259.1 147.4L261.1 147.6L261.9 149.8L261.7 152.3L262.8 152.4M254.7 142.6L255.4 144.5L257.3 145.5L259.1 147.4M254.7 142.6L256.5 142.8L258.5 140.7L260.1 140.3M260.1 140.3L262.8 141.5L262.7 143.7L262.7 145.5L261.1 147.6M260.1 140.3L259.9 139.4L263.1 138.6L262.8 133.7M263.1 138.6L264.5 139.1L265.9 140.7L265.3 141.9L264.3 140.5L263.1 138.6M264.9 135.9L264.5 139.1M256.5 155.3L258.2 154.2L259.1 155.3L257.6 156.3L256.5 155.3M260.8 151.3L261.9 151.4L261.7 152.7L260.8 152.5L260.8 151.3"/>
<path id="hlines" d="M37.6 27.3v192.6M40.3 27.3v192.6M43 27.3v192.6M45.6 27.3v192.6M48.3 27.3v192.6M51 27.3v192.6M53.6 27.3v192.6M56.3 27.3v192.6M59 27.3v192.6M61.6 27.3v192.6M64.3 27.3v192.6M67 27.3v192.6M69.6 27.3v192.6M72.3 27.3v192.6M75 27.3v192.6M77.7 27.3v192.6M80.3 27.3v192.6M83 27.3v192.6M85.7 27.3v192.6M88.3 27.3v192.6M91 27.3v192.6M93.7 27.3v192.6M96.3 27.3v192.6M99 27.3v192.6M101.7 27.3v192.6M104.3 27.3v192.6M107 27.3v192.6M109.7 27.3v192.6M112.3 27.3v192.6M115 27.3v192.6M117.7 27.3v192.6M120.3 27.3v192.6M123 27.3v192.6M125.7 27.3v192.6M128.3 27.3v192.6M131 27.3v192.6M133.7 27.3v192.6M136.3 27.3v192.6M139 27.3v192.6M141.7 27.3v192.6M144.4 27.3v192.6M147 27.3v192.6M149.7 27.3v192.6M152.4 27.3v192.6M155 27.3v192.6M157.7 27.3v192.6M160.4 27.3v192.6M163 27.3v192.6M165.7 27.3v192.6M168.4 27.3v192.6M171 27.3v192.6M173.7 27.3v192.6M176.4 27.3v192.6M179 27.3v192.6M181.7 27.3v192.6M184.4 27.3v192.6M187 27.3v192.6M189.7 27.3v192.6M192.4 27.3v192.6M195 27.3v192.6M197.7 27.3v192.6M200.4 27.3v192.6M203 27.3v192.6M205.7 27.3v192.6M208.4 27.3v192.6M211.1 27.3v192.6M213.7 27.3v192.6M216.4 27.3v192.6M219.1 27.3v192.6M221.7 27.3v192.6M224.4 27.3v192.6M227.1 27.3v192.6M229.7 27.3v192.6M232.4 27.3v192.6M235.1 27.3v192.6M237.7 27.3v192.6M240.4 27.3v192.6M243.1 27.3v192.6M245.7 27.3v192.6M248.4 27.3v192.6M251.1 27.3v192.6M253.7 27.3v192.6M256.4 27.3v192.6M259.1 27.3v192.6M261.7 27.3v192.6M264.4 27.3v192.6M267.1 27.3v192.6M269.7 27.3v192.6M272.4 27.3v192.6M275.1 27.3v192.6M277.8 27.3v192.6M280.4 27.3v192.6M283.1 27.3v192.6M285.8 27.3v192.6M288.4 27.3v192.6M291.1 27.3v192.6M293.8 27.3v192.6M296.4 27.3v192.6M299.1 27.3v192.6M301.8 27.3v192.6M304.4 27.3v192.6M307.1 27.3v192.6M309.8 27.3v192.6M312.4 27.3v192.6M315.1 27.3v192.6M317.8 27.3v192.6M320.4 27.3v192.6M323.1 27.3v192.6M325.8 27.3v192.6M328.4 27.3v192.6M331.1 27.3v192.6M333.8 27.3v192.6M336.4 27.3v192.6M339.1 27.3v192.6M341.8 27.3v192.6M344.5 27.3v192.6M347.1 27.3v192.6M349.8 27.3v192.6M352.5 27.3v192.6M355.1 27.3v192.6M357.8 27.3v192.6M360.5 27.3v192.6M363.1 27.3v192.6M365.8 27.3v192.6M368.5 27.3v192.6M371.1 27.3v192.6M373.8 27.3v192.6M376.5 27.3v192.6M379.1 27.3v192.6M381.8 27.3v192.6M384.5 27.3v192.6M387.1 27.3v192.6M389.8 27.3v192.6M392.5 27.3v192.6M395.1 27.3v192.6M397.8 27.3v192.6M400.5 27.3v192.6M403.1 27.3v192.6M405.8 27.3v192.6M408.5 27.3v192.6M411.2 27.3v192.6M413.8 27.3v192.6M416.5 27.3v192.6M419.2 27.3v192.6"/>
<clipPath id="landclip"><use href="#land"/></clipPath>
<clipPath id="frameclip"><rect x="35.6" y="27.3" width="384.2" height="192.6"/></clipPath>
<pattern id="p1" patternUnits="userSpaceOnUse" x="105.6" width="5.336" height="8"><rect width="5.336" height="8" fill="#ffffcc"/><rect width="1.3" height="8" fill="#ffa51f"/><rect x="2.668" width="0.9" height="8" fill="#ffa51f"/></pattern>
<pattern id="pm1" patternUnits="userSpaceOnUse" x="105.6" width="5.336" height="8"><rect width="5.336" height="8" fill="#ffffcc"/><rect width="1.5" height="8" fill="#d5f3fb"/><rect x="2.668" width="1.2" height="8" fill="#d5f3fb"/></pattern>
<pattern id="p2" patternUnits="userSpaceOnUse" x="105.6" width="5.336" height="8"><rect width="5.336" height="8" fill="#ffa51f"/><rect width="1.5" height="8" fill="#ff0018"/><rect x="2.668" width="1.2" height="8" fill="#ff0018"/></pattern>
<pattern id="pm2" patternUnits="userSpaceOnUse" x="105.6" width="5.336" height="8"><rect width="5.336" height="8" fill="#d5f3fb"/><rect width="1.7" height="8" fill="#00bfff"/><rect x="2.668" width="1.5" height="8" fill="#00bfff"/></pattern>
</defs>
<g transform="matrix(1.00000 0 0 1.00000 0.000 0.000)"><g clip-path="url(#frameclip)">
<use href="#land" fill="#ffffcc"/>
<g clip-path="url(#landclip)">
<path d="M93.9 71.7L117.4 71.1L132.1 72.6L146.8 74.1L152.7 76.4L148.3 81.4L142.4 87.3L139.5 92.3L133.6 90.3L123.3 90.3L120.3 97.6L123.3 104.1L118.9 105.9L113 99.1L108.6 93.2L101.2 88.8L95.3 81.4L93.3 75.6Z" fill="#d5f3fb"/>
<path d="M95.6 77.3L110.6 77.3L110.6 88.5L95.6 88.5Z" fill="#ffffcc"/>
<path d="M123.3 75.6L136.5 75.6L136.5 80.3L123.3 80.3Z" fill="#ffffcc"/>
<path d="M132.1 81.4L140.9 81.4L140.9 86.7L132.1 86.7Z" fill="#ffffcc"/>
<path d="M97.4 79.4L101.5 79.4L101.5 84.1L97.4 84.1Z" fill="#ffa51f"/>
<path d="M98.6 80.6L100.6 80.6L100.6 83.5L98.6 83.5Z" fill="#ff0018"/>
<path d="M113.6 74.1L115.3 74.1L115.3 75.8L113.6 75.8Z" fill="#00bfff"/>
<path d="M106.8 79.1L108.6 79.1L108.6 80.8L106.8 80.8Z" fill="#00bfff"/>
<path d="M118.6 96.7L120.3 96.7L120.3 98.5L118.6 98.5Z" fill="#00bfff"/>
<path d="M54.1 48.8L64.4 48.8L64.4 51.4L54.1 51.4Z" fill="#d5f3fb"/>
<path d="M148.3 62.3L155.6 62.3L155.6 66.7L148.3 66.7Z" fill="#d5f3fb"/>
<path d="M92.4 45.8L98.3 45.8L98.3 48.2L92.4 48.2Z" fill="#d5f3fb"/>
<path d="M129.7 104.1L135 104.1L136.5 110.9L131.5 110.9Z" fill="#ffa51f"/>
<path d="M147.6 113.8L156.8 112.9L159.5 116.6L167.8 118.4L170.6 122.1L175.2 124.8L180.7 127.6L183.4 131.3L182.5 136.8L184.4 142.3L182.5 146L175.2 150.6L169.7 152.4L166 149.7L162.3 146L154.9 142.3L149.4 136.8L143.9 134L140.2 129.4L141.1 123.9L145.7 118.4Z" fill="#d5f3fb"/>
<path d="M141.1 123L149.4 119.3L156.8 118.4L159.5 123L161.4 127.6L157.7 130.3L159.5 134L164.1 136.8L171.5 135.9L175.2 139.5L173.3 145.1L168.7 146.9L164.1 146L159.5 144.1L154.9 139.5L149.4 134.9L143.9 131.3L140.2 127.6Z" fill="#00bfff"/>
<path d="M154 134.9L159.5 135.9L164.1 138.6L168.7 139.5L170.6 143.2L167.8 145.6L163.2 144.1L157.7 140.8L154 137.7Z" fill="#4169e1"/>
<path d="M143.5 125.4L147.6 125.7L148 129.4L144.3 129.1Z" fill="#4169e1"/>
<path d="M155.9 136.4L159.5 137.1L161.4 139.5L158.3 139.4Z" fill="#0000cd"/>
<path d="M166.9 141.9L169.7 142.7L169.3 145.1L166.7 144.1Z" fill="#0000cd"/>
<path d="M168.2 116.9L173.3 119.9L180.7 125.4L191.7 127.6L191.7 133.5L186.6 137.1L184.7 145.1L183.1 139.5L181.6 130.9L177 126.1L171.5 122.4Z" fill="#ffa51f"/>
<path d="M182.5 127.6L190.6 128L190.3 130.5L183.4 130.5Z" fill="#ff0018"/>
<path d="M154.2 148.7L159.5 148.7L165.1 151.1L168.7 153.3L169.7 157.2L166 162.9L161.4 168L157.7 173.4L153.3 173.4L153.3 162.9L154 153.7Z" fill="#ffa51f"/>
<path d="M156.2 155.2L163.8 154.8L164.5 161.6L161.4 163.4L156.8 163.4Z" fill="#ff0018"/>
<path d="M159.7 156.3L162.7 156.3L162.5 159L159.7 159Z" fill="#c81414"/>
<path d="M149.4 173.4L157.7 173.4L157.7 178.3L149.4 178.3Z" fill="#d5f3fb"/>
<path d="M129.2 103.7L138.4 107.4L139.3 111.4L135.6 111L130.1 107.4Z" fill="#ffa51f"/>
<path d="M222.6 76.9L229 76.9L229 82.4L222.6 82.4Z" fill="#ffa51f"/>
<path d="M236.4 67.7L239.1 67.7L239.1 71.4L236.4 71.4Z" fill="#ffa51f"/>
<path d="M319.7 44.7L345.4 41.8L360.9 44.7L360.1 52.1L353.2 58.7L345.4 64.9L332.6 64.9L321.5 57.6Z" fill="#d5f3fb"/>
<path d="M295.8 65.3L323.4 66.4L327 71.2L323.4 76L314.2 76L310.5 68.6Z" fill="url(#p1)"/>
<path d="M273.7 68.6L281.1 66L295.8 66.8L310.5 68.6L314.2 76L308.7 81.5L306.8 90.7L295.8 90.7L286.6 85.2L279.2 79.7L273.7 74.1Z" fill="url(#p1)"/>
<path d="M288.8 69.7L299.1 69.7L299.1 83.3L288.8 83.3Z" fill="#ffa51f"/>
<path d="M314.5 73L326.7 73L326.7 81.5L314.5 81.5Z" fill="#ffa51f"/>
<path d="M283.3 83.3L304.6 83.3L306.8 90.7L295.8 91.8L286.6 87Z" fill="#ffa51f"/>
<path d="M294.7 85.9L297.3 85.9L297.3 88.1L294.7 88.1Z" fill="#ff0018"/>
<path d="M289.2 80.4L291.7 80.4L291.7 82.6L289.2 82.6Z" fill="#ff0018"/>
<path d="M300.2 74.1L302.8 74.1L302.8 76.3L300.2 76.3Z" fill="#ff0018"/>
<path d="M338.1 74.1L347.3 71.6L365.7 72.3L371.2 76L369.3 83.3L366.4 92.5L356.5 96.9L345.4 94.4L339.9 88.9L337.3 81.5Z" fill="#ffa51f"/>
<path d="M344.3 83.3L356.8 82.6L358.3 87.4L347.3 88.9Z" fill="#ff0018"/>
<path d="M300.9 88.4L309.1 87.5L320.2 92.1L321.1 99.4L316.5 106.8L311.9 114.1L309.1 109.5L306.4 101.3L302.7 95.7Z" fill="#ffa51f"/>
<path d="M292.6 79.2L307.3 79.2L309.1 87.5L300.9 88.4L294.4 90.2Z" fill="url(#p1)"/>
<path d="M272.1 70.5L283.3 70.5L283.3 79.4L272.1 79.4Z" fill="url(#p1)"/>
<path d="M212.5 92.4L218.9 88.7L228.1 87.8L239.1 90.5L250.2 91.4L257.5 94.2L266.7 96L268.6 103.4L264.9 107.1L250.2 105.2L237.3 104.3L222.6 105.2L212.5 105.2L210.6 99.7Z" fill="#d5f3fb"/>
<path d="M212.5 98.8L217.1 95.1L224.4 93.3L231.8 92.4L239.1 95.1L248.3 96L250.2 100.6L248.3 104.3L241 105.2L233.6 104.3L226.3 103.4L218.9 105.2L212.5 104.9Z" fill="url(#pm2)"/>
<path d="M212.5 100.6L218.9 98.8L225.3 99.7L226.3 103.4L218.9 105.2L212.5 104.9Z" fill="#00bfff"/>
<path d="M231.8 98.8L248.3 97.9L250.2 100.6L248.3 104.3L241 105.2L233.6 104.3Z" fill="#00bfff"/>
<path d="M213.4 101.9L217.1 101.9L217.1 104.9L213.4 104.9Z" fill="#4169e1"/>
<path d="M236.4 100.6L241 100.6L241 104.3L236.4 104.3Z" fill="#4169e1"/>
<path d="M243.2 99.7L247.4 99.7L247.4 103.4L243.2 103.4Z" fill="#4169e1"/>
<path d="M254.8 97L264 96.4L266.7 101.6L264 106.1L257.5 105.6L254.2 102.5Z" fill="#00bfff"/>
<path d="M256.6 98.2L263 98.2L264.5 103.4L258.4 104.3Z" fill="#4169e1"/>
<path d="M208.8 106.1L213.4 104.9L222.6 105.2L231.8 105.6L241 105.6L250.2 104.3L259.4 106.1L265.8 108L264.9 114.4L259.4 116.3L255.7 119L250.2 114.4L242.8 115.3L237.3 116.3L231.8 114.4L222.6 113.5L213.4 112.6L209.7 109.8Z" fill="#ffa51f"/>
<path d="M212.5 107.4L228.1 106.7L241 108L248.3 109.8L246.5 112.6L239.1 113.5L231.8 111.7L222.6 111.7L213.4 110.7Z" fill="#ff0018"/>
<path d="M220.7 107.8L225.3 107.8L225.3 110.7L220.7 110.7Z" fill="#c81414"/>
<path d="M233.6 108.9L240.1 108.9L240.1 112.6L233.6 112.6Z" fill="#c81414"/>
<path d="M249.8 104.3L259.4 104.9L263 109.8L259.4 113.5L251.1 112.6Z" fill="#ff0018"/>
<path d="M251.1 105.2L257.5 105.6L258.4 111.7L252 111.7Z" fill="#c81414"/>
<path d="M263 120.9L270.4 119.9L271.3 129.1L269.5 138.3L264 138.3L263 129.1Z" fill="#ffa51f"/>
<path d="M265.4 124.5L269.9 124.5L269.9 136.5L265.4 136.5Z" fill="#ff0018"/>
<path d="M266.4 128.2L268.6 128.2L268.6 132.8L266.4 132.8Z" fill="#c81414"/>
<path d="M240.1 131L248.3 129.1L255.7 131L257.5 138.3L250.2 145L241 145Z" fill="#d5f3fb"/>
<path d="M264.2 125L270.6 125L270.6 138.8L264.2 138.8Z" fill="#ffa51f"/>
<path d="M266.4 127.2L269.3 127.2L269.3 135.5L266.4 135.5Z" fill="#ff0018"/>
<path d="M240.6 135.1L252.6 135.1L252.6 145.2L243.4 145.2L240.6 139.7Z" fill="#d5f3fb"/>
<path d="M244.9 138.4L247.8 138.4L247.8 141.2L244.9 141.2Z" fill="#00bfff"/>
<path d="M259 140.4L264.5 140.4L264.5 142.7L259 142.7Z" fill="#00bfff"/>
<path d="M252.6 147.4L262.7 147.1L263.6 152.6L259.9 156.6L254.4 156.6L252.2 152.6Z" fill="#ffa51f"/>
<path d="M272.4 143.4L281.1 143.4L281.1 152.6L272.4 152.6Z" fill="#d5f3fb"/>
<path d="M268.7 87.5L279.7 87.5L285.2 93.9L283.4 103.1L276 103.1L270.5 95.7Z" fill="#d5f3fb"/>
<path d="M327.5 93.9L333 93.9L333 101.3L327.5 101.3Z" fill="#d5f3fb"/>
<path d="M336.7 101.3L342.2 101.3L342.2 106.8L336.7 106.8Z" fill="#ffa51f"/>
<path d="M265 117.8L272.4 117.8L272.4 130L265 130Z" fill="#ffa51f"/>
<path d="M335 88.4L344.2 88.4L344.2 95.7L335 95.7Z" fill="#d5f3fb"/>
<path d="M365.3 79.2L381 79.2L381 91.1L365.3 91.1Z" fill="#ffa51f"/>
<path d="M360.7 76.4L366.6 76.4L366.6 86.6L360.7 86.6Z" fill="#ffa51f"/>
<path d="M356.1 103.1L361.7 103.1L361.7 117.8L356.1 117.8Z" fill="#d5f3fb"/>
<path d="M345.1 115.1L356.1 115.1L356.1 127.9L345.1 127.9Z" fill="#d5f3fb"/>
<path d="M350.6 116L354.3 116L354.3 118.7L350.6 118.7Z" fill="#ffa51f"/>
<path d="M362.6 122.4L390.2 122.4L390.2 130L362.6 130Z" fill="#d5f3fb"/>
<path d="M348.8 149L355.2 142.6L362.6 137.1L371.8 136.1L378.2 139.8L381 135.2L385.6 142.6L391.1 149.9L391.1 154.5L382.8 154.5L375.5 151.8L366.3 152.7L357.1 151.8L348.8 154Z" fill="#d5f3fb"/>
<path d="M356.1 144.4L362.6 138.9L370.9 138L373.6 142.6L372.7 149L366.3 149.9L358.9 149Z" fill="#00bfff"/>
<path d="M374.5 145.3L380.1 142.6L383.7 147.2L381.9 150.9L376.4 150.9Z" fill="#00bfff"/>
<path d="M361.3 142.2L363.5 142.2L363.5 146.6L361.3 146.6Z" fill="#4169e1"/>
<path d="M366.6 140.4L368.5 140.4L368.5 144.4L366.6 144.4Z" fill="#4169e1"/>
<path d="M377.3 145.9L379.3 145.9L379.3 149.6L377.3 149.6Z" fill="#4169e1"/>
<path d="M351.2 156.4L358 156.4L358 160.6L351.2 160.6Z" fill="#ffa51f"/>
<path d="M374.5 158.6L381 157.3L389.3 156.2L390.2 161L385 165L378.2 164.1L375.1 161Z" fill="#ffa51f"/>
<path d="M370.9 124.2L381 124.2L381 134.3L370.9 134.3Z" fill="#d5f3fb"/>
<path d="M372.7 126L378.2 126L378.2 130.6L372.7 130.6Z" fill="#00bfff"/>
<path d="M379.1 127.9L386.1 127.9L386.1 133.8L379.1 133.8Z" fill="#ffa51f"/>
<path d="M343.3 117.8L355.2 117.8L355.2 127.5L343.3 127.5Z" fill="#d5f3fb"/>
<path d="M335 118.7L340.5 118.7L340.5 131.6L335 131.6Z" fill="#d5f3fb"/>
<path d="M336.5 123.3L338.7 123.3L338.7 127.5L336.5 127.5Z" fill="#00bfff"/>
</g>
<use href="#lakes" fill="#fff"/>
<clipPath id="hatch0"><path d="M103.9 51L127.8 50.1L135.2 51L160 57.5L160 74.9L153.6 75.9L142.5 72.2L103.9 71.6ZM142.1 118.4L177 118.4L191.7 127.6L191.7 136.8L184.7 146L175.2 151.5L168.2 155.2L168.2 162.5L162.3 171.7L151.6 171.7L151.6 148.7L162.3 146.9L149.4 136.8L140.6 129.4ZM234.5 57.6L239.1 52.1L250.2 48.4L261.2 48.4L275 50.2L275 83.3L255.7 83.3L250.2 79.7L241 77.8L234.5 74.1L229.9 77.8L222.6 82.4L222.6 69.5L231.8 66.8L234.5 63.1ZM259 53.9L281.1 50.2L310.5 52.1L314.2 66.8L332.6 66.8L338.1 69.7L369.3 68.6L371.2 90.7L354.6 96.2L345.4 90.7L327 88.9L325.2 116.4L314.2 118.3L305 88.9L295.8 81.5L273.7 79.7L259 72.3ZM359 46.6L419 50.2L419 64.9L398.8 71.2L382.2 66.8L378.5 77.1L369.3 68.6L354.6 63.8ZM215.2 92.4L242.8 92.4L250.2 103.4L259.4 103.4L265.8 108L264.9 116.3L255.7 119L242.8 116.3L215.2 116.3ZM264.5 120.9L271.3 120.9L271.3 138.7L264.5 138.7ZM358.5 136.7L372.1 136.7L372.1 150.3L358.5 150.3ZM375.8 142.2L381.3 142.2L381.3 151.2L375.8 151.2ZM373.3 154.2L388.7 154.2L388.7 165L373.3 165Z"/></clipPath>
<g clip-path="url(#landclip)"><g clip-path="url(#hatch0)"><use href="#hlines" stroke="#333" stroke-width="0.55" stroke-dasharray="5.2 1.6" fill="none"/></g></g>
<g fill="none" stroke="#000" stroke-linejoin="round"><use href="#land" stroke-width="0.85"/><use href="#thick" stroke-width="1"/><use href="#lakes" stroke-width="0.85"/><use href="#coastx" stroke-width="0.75"/><use href="#borders" stroke-width="0.5"/></g>
</g></g>
<rect x="35.6" y="27.3" width="384.2" height="192.6" fill="none" stroke="#000" stroke-width="1.1"/>
<path d="M35.60 27.30v-6.5M35.60 219.90v6.5M46.27 27.30v-3.2M46.27 219.90v3.2M56.94 27.30v-3.2M56.94 219.90v3.2M67.62 27.30v-6.5M67.62 219.90v6.5M78.29 27.30v-3.2M78.29 219.90v3.2M88.96 27.30v-3.2M88.96 219.90v3.2M99.63 27.30v-6.5M99.63 219.90v6.5M110.31 27.30v-3.2M110.31 219.90v3.2M120.98 27.30v-3.2M120.98 219.90v3.2M131.65 27.30v-6.5M131.65 219.90v6.5M142.32 27.30v-3.2M142.32 219.90v3.2M152.99 27.30v-3.2M152.99 219.90v3.2M163.67 27.30v-6.5M163.67 219.90v6.5M174.34 27.30v-3.2M174.34 219.90v3.2M185.01 27.30v-3.2M185.01 219.90v3.2M195.68 27.30v-6.5M195.68 219.90v6.5M206.36 27.30v-3.2M206.36 219.90v3.2M217.03 27.30v-3.2M217.03 219.90v3.2M227.70 27.30v-6.5M227.70 219.90v6.5M238.37 27.30v-3.2M238.37 219.90v3.2M249.04 27.30v-3.2M249.04 219.90v3.2M259.72 27.30v-6.5M259.72 219.90v6.5M270.39 27.30v-3.2M270.39 219.90v3.2M281.06 27.30v-3.2M281.06 219.90v3.2M291.73 27.30v-6.5M291.73 219.90v6.5M302.41 27.30v-3.2M302.41 219.90v3.2M313.08 27.30v-3.2M313.08 219.90v3.2M323.75 27.30v-6.5M323.75 219.90v6.5M334.42 27.30v-3.2M334.42 219.90v3.2M345.09 27.30v-3.2M345.09 219.90v3.2M355.77 27.30v-6.5M355.77 219.90v6.5M366.44 27.30v-3.2M366.44 219.90v3.2M377.11 27.30v-3.2M377.11 219.90v3.2M387.78 27.30v-6.5M387.78 219.90v6.5M398.46 27.30v-3.2M398.46 219.90v3.2M409.13 27.30v-3.2M409.13 219.90v3.2M419.80 27.30v-6.5M419.80 219.90v6.5M35.60 219.90h-6.5M419.80 219.90h6.5M35.60 209.20h-3.2M419.80 209.20h3.2M35.60 198.50h-3.2M419.80 198.50h3.2M35.60 187.80h-6.5M419.80 187.80h6.5M35.60 177.10h-3.2M419.80 177.10h3.2M35.60 166.40h-3.2M419.80 166.40h3.2M35.60 155.70h-6.5M419.80 155.70h6.5M35.60 145.00h-3.2M419.80 145.00h3.2M35.60 134.30h-3.2M419.80 134.30h3.2M35.60 123.60h-6.5M419.80 123.60h6.5M35.60 112.90h-3.2M419.80 112.90h3.2M35.60 102.20h-3.2M419.80 102.20h3.2M35.60 91.50h-6.5M419.80 91.50h6.5M35.60 80.80h-3.2M419.80 80.80h3.2M35.60 70.10h-3.2M419.80 70.10h3.2M35.60 59.40h-6.5M419.80 59.40h6.5M35.60 48.70h-3.2M419.80 48.70h3.2M35.60 38.00h-3.2M419.80 38.00h3.2M35.60 27.30h-6.5M419.80 27.30h6.5" stroke="#000" stroke-width="1" fill="none"/>
<text x="35.6" y="239.2" font-size="9.1" text-anchor="middle">180</text>
<text x="67.6" y="239.2" font-size="9.1" text-anchor="middle">150W</text>
<text x="99.6" y="239.2" font-size="9.1" text-anchor="middle">120W</text>
<text x="131.7" y="239.2" font-size="9.1" text-anchor="middle">90W</text>
<text x="163.7" y="239.2" font-size="9.1" text-anchor="middle">60W</text>
<text x="195.7" y="239.2" font-size="9.1" text-anchor="middle">30W</text>
<text x="227.7" y="239.2" font-size="9.1" text-anchor="middle">0</text>
<text x="259.7" y="239.2" font-size="9.1" text-anchor="middle">30E</text>
<text x="291.7" y="239.2" font-size="9.1" text-anchor="middle">60E</text>
<text x="323.8" y="239.2" font-size="9.1" text-anchor="middle">90E</text>
<text x="355.8" y="239.2" font-size="9.1" text-anchor="middle">120E</text>
<text x="387.8" y="239.2" font-size="9.1" text-anchor="middle">150E</text>
<text x="419.8" y="239.2" font-size="9.1" text-anchor="middle">180</text>
<text x="22.8" y="223.0" font-size="9.1" text-anchor="end">90S</text>
<text x="22.8" y="190.9" font-size="9.1" text-anchor="end">60S</text>
<text x="22.8" y="158.8" font-size="9.1" text-anchor="end">30S</text>
<text x="22.8" y="126.7" font-size="9.1" text-anchor="end">0</text>
<text x="22.8" y="94.6" font-size="9.1" text-anchor="end">30N</text>
<text x="22.8" y="62.5" font-size="9.1" text-anchor="end">60N</text>
<text x="22.8" y="30.4" font-size="9.1" text-anchor="end">90N</text>
<text x="33.1" y="15.7" font-size="12.9">SON</text>
<g transform="matrix(1.00807 0 0 1.00779 -1.687 251.187)"><g clip-path="url(#frameclip)">
<use href="#land" fill="#ffffcc"/>
<g clip-path="url(#landclip)">
<path d="M93.8 73.9L104.8 71.5L115.7 72L126.6 73L135.8 74.8L141.2 76.6L139.4 79.3L132.1 80.3L124.8 81.2L119.3 83L113.9 82.1L108.4 83L102.9 83.9L98.4 81.2L94.7 76.6Z" fill="#d5f3fb"/>
<path d="M102 83.9L108.4 84.8L114.8 88.5L120.3 91.2L124.8 93.9L123.9 99.4L126.6 104L132.1 102.2L133.9 104.9L130.3 108.5L135.8 111.3L137.6 114.9L133.9 113.1L126.6 108.5L119.3 105.8L113.9 101.2L108.4 94.9L102.9 88.5Z" fill="#ffa51f"/>
<path d="M113.9 93L120.3 93L123 97.6L122.1 104L117.5 104L114.8 99.4Z" fill="#ff0018"/>
<path d="M146.3 115.5L157.2 113.7L168.1 118.3L175.4 121.9L182.7 127.4L180.9 136.5L175.4 145.7L173.6 153L169.1 158.4L163.6 157.5L159.9 153L155.4 147.5L149.9 138.4L143.5 132.9L140.4 127.4L141.7 121.9Z" fill="#d5f3fb"/>
<path d="M140.8 123.8L148.1 120.1L157.2 119.2L164.5 121.9L169.1 124.7L166.3 131.1L164.5 136.5L170 139.3L173.6 145.7L172.7 153L169.1 156.6L164.5 154.8L160.8 149.3L155.4 143.8L149.9 136.5L143.5 131.1Z" fill="#00bfff"/>
<path d="M171.8 125.6L177.6 127.4L178.2 132.9L173.6 133.8Z" fill="#00bfff"/>
<path d="M148.1 127.4L152.6 129.2L157.2 132.9L161.8 138.4L166.3 143.8L170 149.3L169.1 153.9L165.4 151.1L161.8 145.7L156.3 140.2L151.7 135.6L147.7 131.1Z" fill="#4169e1"/>
<path d="M152.6 132L157.2 134.7L161.8 141.1L165.4 145.7L163.6 146.6L159 142L154.5 136.5Z" fill="#0000cd"/>
<path d="M172.7 127.4L175.4 127.4L175.4 130.7L172.7 130.7Z" fill="#4169e1"/>
<path d="M182.7 127.4L191.5 129.2L191.9 134.7L188.2 142L183.7 146.6L179.1 149.3L175.4 147.5L177.3 141.1L180 135.6L181.8 131.1Z" fill="#ffa51f"/>
<path d="M183.7 132L189.7 131.1L189.7 139.3L185.5 142.9L182.7 141.1L182.7 135.6Z" fill="#ff0018"/>
<path d="M152.6 159.2L162.3 159.2L159.9 167.6L158.3 173.9L150.5 173.9L151.4 165.7Z" fill="url(#p1)"/>
<path d="M153.2 151.1L157.2 151.1L157.2 154.8L153.2 154.8Z" fill="#ffa51f"/>
<path d="M149.9 171.2L155 171.2L155 176.7L149.9 176.7Z" fill="#ffa51f"/>
<path d="M120.7 100L131.7 101.9L139 109.2L139.9 113.7L135.3 112.8L128 107.3L120.7 103.7Z" fill="#ffa51f"/>
<path d="M149.5 111.3L154.6 111.3L154.6 115.7L149.5 115.7Z" fill="#ffa51f"/>
<path d="M156.3 160.3L159 160.3L159 163.9L156.3 163.9Z" fill="#ffa51f"/>
<path d="M217.7 87.1L225.2 82.1L236.5 80.8L239 93.4L232.7 97.1L218.9 95.9Z" fill="url(#p1)"/>
<path d="M215.2 95.4L220.2 95.4L220.2 100.9L215.2 100.9Z" fill="#d5f3fb"/>
<path d="M220.2 95.9L236.5 95.9L236.5 105.9L220.2 105.9Z" fill="url(#p1)"/>
<path d="M237.8 93.4L257.8 85.8L277.9 87.1L277.9 100.9L264.1 105.9L254.1 98.4L245.3 103.4L237.8 105.9Z" fill="url(#p1)"/>
<path d="M210.7 105.9L222.7 105.9L236.5 105.9L245.3 103.4L254.1 98.4L261.6 99.6L264.1 105.9L264.1 118.5L252.8 119.7L245.3 119.7L235.2 119.2L220.2 118.5L210.7 117.2Z" fill="#ffa51f"/>
<path d="M210.7 109.7L220.2 109.7L227.7 111.4L236.5 112.9L245.3 111.4L251.6 108.4L255.3 105.9L260.8 107.2L260.3 113.4L255.3 117.2L245.3 118.5L235.2 118L225.2 117.2L216.4 117.2L211.4 114.7Z" fill="#ff0018"/>
<path d="M216.4 112.9L232.7 112.9L232.7 116.5L216.4 116.5Z" fill="#c81414"/>
<path d="M236.5 113.9L245.3 113.9L245.3 117.5L236.5 117.5Z" fill="#c81414"/>
<path d="M253.3 108.4L259.8 108.4L259.8 113.4L253.3 113.4Z" fill="#c81414"/>
<path d="M259.8 111.4L267.9 110.9L268.4 118.5L260.8 119Z" fill="#d5f3fb"/>
<path d="M267.9 109.7L279.1 109.7L275.4 118.5L270.4 124.7L270.4 134.8L264.8 134.8L265.4 122.2Z" fill="#ffa51f"/>
<path d="M266.1 124L269.9 124L269.9 134L266.1 134Z" fill="#ff0018"/>
<path d="M240.3 119.2L266.6 119.2L265.9 133L240.3 133Z" fill="url(#p1)"/>
<path d="M240.3 132.3L245.3 132.3L245.3 141.5L240.3 141.5Z" fill="#ffa51f"/>
<path d="M270.4 87.1L281.7 85.8L295.5 95.9L290.4 105.9L279.1 109.7L274.1 100.9Z" fill="url(#p1)"/>
<path d="M277.9 75.8L304.2 78.3L304.2 93.4L294.2 93.4L281.7 84.6Z" fill="url(#p1)"/>
<path d="M237.8 68.3L277.9 68.3L277.9 79.6L260.3 80.8L237.8 78.3Z" fill="url(#pm1)"/>
<path d="M263.7 122.9L270.8 122.9L270.8 137.1L263.7 137.1Z" fill="#ffa51f"/>
<path d="M265.9 124.7L269.8 124.7L269.8 134.7L265.9 134.7Z" fill="#ff0018"/>
<path d="M267.2 127.4L269.6 127.4L269.6 133.8L267.2 133.8Z" fill="#c81414"/>
<path d="M242.2 131.1L246.8 131.1L246.8 141.1L242.2 141.1Z" fill="#ffa51f"/>
<path d="M243.1 140.2L252.2 138.4L264.1 139.3L265.9 144.8L261.4 150.2L257.7 156.6L250.4 158.4L245.9 155.7L244 148.4Z" fill="#d5f3fb"/>
<path d="M249.5 143.8L255 142L260.4 145.7L261.4 150.2L256.8 152.1L252.2 150.2Z" fill="#00bfff"/>
<path d="M272.7 137.5L281.1 137.5L281.1 151.7L272.7 151.7Z" fill="#d5f3fb"/>
<path d="M275 143.3L277.8 143.3L277.8 146.6L275 146.6Z" fill="#00bfff"/>
<path d="M237.4 67.1L241.6 63.8L249.8 61.6L254.4 57.9L262.6 56.1L274.5 57.9L274.5 76.2L268.1 78L257.1 76.2L249.8 75.3L242.5 73.5L238 69.8Z" fill="#d5f3fb"/>
<path d="M218.8 73.5L231.6 73.5L231.6 83.9L218.8 83.9Z" fill="url(#p1)"/>
<path d="M228 68.5L238 68.5L238 75.5L228 75.5Z" fill="url(#p1)"/>
<path d="M217 83.9L249.8 83.9L249.8 90.1L217 90.1Z" fill="url(#p1)"/>
<path d="M264.6 57.9L280.1 57.9L280.1 83.5L264.6 83.5Z" fill="#d5f3fb"/>
<path d="M264.6 84L275.5 83L282.8 84.9L291.9 84L301 84.9L303.8 97.6L297.4 94.9L290.1 94L286.4 95.8L287.4 101.3L282.8 106.8L275.5 109.5L271.9 104.9L268.2 97.6L264.6 94Z" fill="url(#p1)"/>
<path d="M301 84.9L308.3 85.8L313.8 90.3L319.3 94L318.4 100.4L313.8 108.6L310.2 114.1L307.4 110.4L305.6 103.1L302.9 97.6Z" fill="#ffa51f"/>
<path d="M281.5 91.8L284.1 91.8L284.1 94.4L281.5 94.4Z" fill="#ff0018"/>
<path d="M333.5 93.6L342.1 93.6L342.1 101.7L333.5 101.7Z" fill="#ffa51f"/>
<path d="M335.7 95.4L339.7 95.4L339.7 99.5L335.7 99.5Z" fill="#ff0018"/>
<path d="M264.6 70.3L275.5 70.3L275.5 75.7L264.6 75.7Z" fill="#d5f3fb"/>
<path d="M291.9 75.7L306.5 75.7L306.5 80.3L291.9 80.3Z" fill="#d5f3fb"/>
<path d="M355.5 104.6L359 104.6L359 109.9L355.5 109.9Z" fill="#00bfff"/>
<path d="M344 119.5L354.1 119.5L354.1 127.7L344 127.7Z" fill="#d5f3fb"/>
<path d="M345.9 122.3L352.2 122.3L352.2 126.5L345.9 126.5Z" fill="#00bfff"/>
<path d="M350 146.9L357.7 140.5L365 136.8L372.3 135.9L376.9 140.1L379.6 135.9L384.2 142.3L389.6 149.6L390.5 156.9L386 162L377.8 162L373.2 159.1L365 159.1L357.7 159.1L351.3 157.3L349.5 151.4Z" fill="#d5f3fb"/>
<path d="M351.3 146.9L357.7 141.4L365 137.7L372.3 136.8L376.9 140.5L379.6 136.8L383.3 142.3L388.7 149.6L389.6 156L385.1 160.5L377.8 160.5L373.2 157.8L365 157.8L357.7 157.8L352.2 156L350.4 151.4Z" fill="#00bfff"/>
<path d="M354.1 148.7L359.5 145L364.1 147.8L363.2 154.2L355.9 154.2Z" fill="#4169e1"/>
<path d="M375 144.1L381.4 144.1L386.9 151.4L383.3 157.8L376.9 156L375 149.6Z" fill="#4169e1"/>
<path d="M357.7 149.6L362.3 149.6L362.3 153.2L357.7 153.2Z" fill="#0000cd"/>
<path d="M376.9 146.9L381.4 147.8L385.1 153.2L380.5 156L377.4 152.3Z" fill="#0000cd"/>
<path d="M361.4 142.3L364.1 142.3L364.1 145L361.4 145Z" fill="#ffffcc"/>
<path d="M370.5 147.8L373.2 147.8L373.2 150.5L370.5 150.5Z" fill="#ffffcc"/>
<path d="M369.6 125L377.8 125L377.8 132.3L369.6 132.3Z" fill="#d5f3fb"/>
</g>
<use href="#lakes" fill="#fff"/>
<clipPath id="hatch1"><path d="M102 83.9L108.4 84.8L120.3 91.2L124.8 93.9L123.9 104L117.5 104.9L108.4 94.9ZM140.8 119.2L177.3 119.2L191.9 129.2L191.9 136.5L183.7 147.5L173.6 154.8L164.5 156.6L149.9 138.4L140.4 129.2ZM153.2 153.9L163 153.9L163 173L153.2 173ZM210.2 78.3L304.2 75.8L304.2 110.9L277.9 110.9L270.4 136L265.4 139.8L240.3 139.8L240.3 119.7L210.2 118.5ZM253.5 59.8L274.5 59.8L274.5 72.9L253.5 72.9ZM217.9 72.5L238 72.5L238 90.1L217.9 90.1ZM264.6 83L308.3 84.9L319.3 94L318.4 101.3L310.2 115L305.6 103.1L287.4 101.3L282.8 107.7L275.5 125L264.6 125ZM314.1 75.1L330.8 75.1L330.8 90.1L314.1 90.1ZM339.1 80.8L352.6 80.8L352.6 94.4L339.1 94.4ZM351.3 146.9L365 136.8L379.6 135.9L389.6 149.6L389.6 156.9L385.1 161.5L352.2 157.8Z"/></clipPath>
<g clip-path="url(#landclip)"><g clip-path="url(#hatch1)"><use href="#hlines" stroke="#333" stroke-width="0.55" stroke-dasharray="5.2 1.6" fill="none"/></g></g>
<g fill="none" stroke="#000" stroke-linejoin="round"><use href="#land" stroke-width="0.85"/><use href="#thick" stroke-width="1"/><use href="#lakes" stroke-width="0.85"/><use href="#coastx" stroke-width="0.75"/><use href="#borders" stroke-width="0.5"/></g>
</g></g>
<rect x="34.2" y="278.7" width="387.3" height="194.1" fill="none" stroke="#000" stroke-width="1.1"/>
<path d="M34.20 278.70v-6.5M34.20 472.80v6.5M44.96 278.70v-3.2M44.96 472.80v3.2M55.72 278.70v-3.2M55.72 472.80v3.2M66.47 278.70v-6.5M66.47 472.80v6.5M77.23 278.70v-3.2M77.23 472.80v3.2M87.99 278.70v-3.2M87.99 472.80v3.2M98.75 278.70v-6.5M98.75 472.80v6.5M109.51 278.70v-3.2M109.51 472.80v3.2M120.27 278.70v-3.2M120.27 472.80v3.2M131.03 278.70v-6.5M131.03 472.80v6.5M141.78 278.70v-3.2M141.78 472.80v3.2M152.54 278.70v-3.2M152.54 472.80v3.2M163.30 278.70v-6.5M163.30 472.80v6.5M174.06 278.70v-3.2M174.06 472.80v3.2M184.82 278.70v-3.2M184.82 472.80v3.2M195.57 278.70v-6.5M195.57 472.80v6.5M206.33 278.70v-3.2M206.33 472.80v3.2M217.09 278.70v-3.2M217.09 472.80v3.2M227.85 278.70v-6.5M227.85 472.80v6.5M238.61 278.70v-3.2M238.61 472.80v3.2M249.37 278.70v-3.2M249.37 472.80v3.2M260.12 278.70v-6.5M260.12 472.80v6.5M270.88 278.70v-3.2M270.88 472.80v3.2M281.64 278.70v-3.2M281.64 472.80v3.2M292.40 278.70v-6.5M292.40 472.80v6.5M303.16 278.70v-3.2M303.16 472.80v3.2M313.92 278.70v-3.2M313.92 472.80v3.2M324.68 278.70v-6.5M324.68 472.80v6.5M335.43 278.70v-3.2M335.43 472.80v3.2M346.19 278.70v-3.2M346.19 472.80v3.2M356.95 278.70v-6.5M356.95 472.80v6.5M367.71 278.70v-3.2M367.71 472.80v3.2M378.47 278.70v-3.2M378.47 472.80v3.2M389.22 278.70v-6.5M389.22 472.80v6.5M399.98 278.70v-3.2M399.98 472.80v3.2M410.74 278.70v-3.2M410.74 472.80v3.2M421.50 278.70v-6.5M421.50 472.80v6.5M34.20 472.80h-6.5M421.50 472.80h6.5M34.20 462.02h-3.2M421.50 462.02h3.2M34.20 451.23h-3.2M421.50 451.23h3.2M34.20 440.45h-6.5M421.50 440.45h6.5M34.20 429.67h-3.2M421.50 429.67h3.2M34.20 418.88h-3.2M421.50 418.88h3.2M34.20 408.10h-6.5M421.50 408.10h6.5M34.20 397.32h-3.2M421.50 397.32h3.2M34.20 386.53h-3.2M421.50 386.53h3.2M34.20 375.75h-6.5M421.50 375.75h6.5M34.20 364.97h-3.2M421.50 364.97h3.2M34.20 354.18h-3.2M421.50 354.18h3.2M34.20 343.40h-6.5M421.50 343.40h6.5M34.20 332.62h-3.2M421.50 332.62h3.2M34.20 321.83h-3.2M421.50 321.83h3.2M34.20 311.05h-6.5M421.50 311.05h6.5M34.20 300.27h-3.2M421.50 300.27h3.2M34.20 289.48h-3.2M421.50 289.48h3.2M34.20 278.70h-6.5M421.50 278.70h6.5" stroke="#000" stroke-width="1" fill="none"/>
<text x="34.2" y="492.1" font-size="9.1" text-anchor="middle">180</text>
<text x="66.5" y="492.1" font-size="9.1" text-anchor="middle">150W</text>
<text x="98.8" y="492.1" font-size="9.1" text-anchor="middle">120W</text>
<text x="131.0" y="492.1" font-size="9.1" text-anchor="middle">90W</text>
<text x="163.3" y="492.1" font-size="9.1" text-anchor="middle">60W</text>
<text x="195.6" y="492.1" font-size="9.1" text-anchor="middle">30W</text>
<text x="227.9" y="492.1" font-size="9.1" text-anchor="middle">0</text>
<text x="260.1" y="492.1" font-size="9.1" text-anchor="middle">30E</text>
<text x="292.4" y="492.1" font-size="9.1" text-anchor="middle">60E</text>
<text x="324.7" y="492.1" font-size="9.1" text-anchor="middle">90E</text>
<text x="356.9" y="492.1" font-size="9.1" text-anchor="middle">120E</text>
<text x="389.2" y="492.1" font-size="9.1" text-anchor="middle">150E</text>
<text x="421.5" y="492.1" font-size="9.1" text-anchor="middle">180</text>
<text x="21.4" y="475.9" font-size="9.1" text-anchor="end">90S</text>
<text x="21.4" y="443.6" font-size="9.1" text-anchor="end">60S</text>
<text x="21.4" y="411.2" font-size="9.1" text-anchor="end">30S</text>
<text x="21.4" y="378.9" font-size="9.1" text-anchor="end">0</text>
<text x="21.4" y="346.5" font-size="9.1" text-anchor="end">30N</text>
<text x="21.4" y="314.2" font-size="9.1" text-anchor="end">60N</text>
<text x="21.4" y="281.8" font-size="9.1" text-anchor="end">90N</text>
<text x="33.1" y="267.1" font-size="12.9">DJF</text>
<rect x="80.90" y="513.7" width="29.35" height="17.6" fill="#8a2be2" stroke="#000" stroke-width="0.6"/>
<rect x="110.25" y="513.7" width="29.35" height="17.6" fill="#0000cd" stroke="#000" stroke-width="0.6"/>
<rect x="139.60" y="513.7" width="29.35" height="17.6" fill="#4169e1" stroke="#000" stroke-width="0.6"/>
<rect x="168.95" y="513.7" width="29.35" height="17.6" fill="#00bfff" stroke="#000" stroke-width="0.6"/>
<rect x="198.30" y="513.7" width="29.35" height="17.6" fill="#d5f3fb" stroke="#000" stroke-width="0.6"/>
<rect x="227.65" y="513.7" width="29.35" height="17.6" fill="#ffffcc" stroke="#000" stroke-width="0.6"/>
<rect x="257.00" y="513.7" width="29.35" height="17.6" fill="#ffa51f" stroke="#000" stroke-width="0.6"/>
<rect x="286.35" y="513.7" width="29.35" height="17.6" fill="#ff0018" stroke="#000" stroke-width="0.6"/>
<rect x="315.70" y="513.7" width="29.35" height="17.6" fill="#c81414" stroke="#000" stroke-width="0.6"/>
<rect x="345.05" y="513.7" width="29.35" height="17.6" fill="#ff69b4" stroke="#000" stroke-width="0.6"/>
<text x="110.2" y="542.4" font-size="9.1" text-anchor="middle">-2</text>
<text x="139.6" y="542.4" font-size="9.1" text-anchor="middle">-1.5</text>
<text x="169.0" y="542.4" font-size="9.1" text-anchor="middle">-1</text>
<text x="198.3" y="542.4" font-size="9.1" text-anchor="middle">-0.5</text>
<text x="227.7" y="542.4" font-size="9.1" text-anchor="middle">0</text>
<text x="257.0" y="542.4" font-size="9.1" text-anchor="middle">0.5</text>
<text x="286.4" y="542.4" font-size="9.1" text-anchor="middle">1</text>
<text x="315.7" y="542.4" font-size="9.1" text-anchor="middle">1.5</text>
<text x="345.1" y="542.4" font-size="9.1" text-anchor="middle">2</text>
</svg></body></html>
